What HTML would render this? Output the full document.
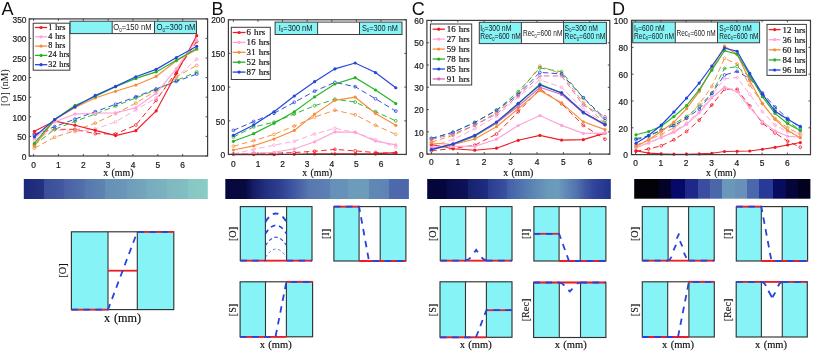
<!DOCTYPE html><html><head><meta charset="utf-8"><style>html,body{margin:0;padding:0;background:#fff;overflow:hidden}svg{display:block;will-change:transform}.tk{font-family:"Liberation Sans",sans-serif;font-size:8.4px;fill:#1a1a1a;stroke:#1a1a1a;stroke-width:0.2px}.lab{font-family:"Liberation Serif",serif;font-size:10.2px;fill:#111;stroke:#111;stroke-width:0.12px}.leg{font-family:"Liberation Serif",serif;font-size:9.3px;fill:#111;stroke:#111;stroke-width:0.2px;letter-spacing:0.12px;word-spacing:0.6px}.hd{font-family:"Liberation Sans",sans-serif;font-size:8.3px;fill:#1a1a1a}.xl{font-family:"Liberation Serif",serif;font-size:10.5px;fill:#111;stroke:#111;stroke-width:0.18px;word-spacing:0.8px}.pl{font-family:"Liberation Sans",sans-serif;font-size:18px;fill:#111}</style></head><body><svg width="813" height="352" viewBox="0 0 813 352">
<rect width="813" height="352" fill="#fff"/>
<text x="1.5" y="14.6" class="pl">A</text>
<text x="211.5" y="14.6" class="pl">B</text>
<text x="411.8" y="14.6" class="pl">C</text>
<text x="612" y="14.6" class="pl">D</text>
<polyline points="34.4,133.66 54.69,129.34 74.98,129.34 95.27,133.66 115.56,134.05 135.85,125.03 156.14,100.34 176.43,71.72 196.72,41.54" fill="none" stroke="#f01c24" stroke-width="0.95" stroke-dasharray="5.5,3.3"/>
<circle cx="34.4" cy="133.66" r="1.4" fill="none" stroke="#f01c24" stroke-width="0.8"/>
<circle cx="54.69" cy="129.34" r="1.4" fill="none" stroke="#f01c24" stroke-width="0.8"/>
<circle cx="74.98" cy="129.34" r="1.4" fill="none" stroke="#f01c24" stroke-width="0.8"/>
<circle cx="95.27" cy="133.66" r="1.4" fill="none" stroke="#f01c24" stroke-width="0.8"/>
<circle cx="115.56" cy="134.05" r="1.4" fill="none" stroke="#f01c24" stroke-width="0.8"/>
<circle cx="135.85" cy="125.03" r="1.4" fill="none" stroke="#f01c24" stroke-width="0.8"/>
<circle cx="156.14" cy="100.34" r="1.4" fill="none" stroke="#f01c24" stroke-width="0.8"/>
<circle cx="176.43" cy="71.72" r="1.4" fill="none" stroke="#f01c24" stroke-width="0.8"/>
<circle cx="196.72" cy="41.54" r="1.4" fill="none" stroke="#f01c24" stroke-width="0.8"/>
<polyline points="34.4,140.32 54.69,129.34 74.98,131.7 95.27,128.95 115.56,121.9 135.85,109.94 156.14,97.98 176.43,77.6 196.72,59.18" fill="none" stroke="#ffa4d8" stroke-width="0.95" stroke-dasharray="5.5,3.3"/>
<circle cx="34.4" cy="140.32" r="1.4" fill="none" stroke="#ffa4d8" stroke-width="0.8"/>
<circle cx="54.69" cy="129.34" r="1.4" fill="none" stroke="#ffa4d8" stroke-width="0.8"/>
<circle cx="74.98" cy="131.7" r="1.4" fill="none" stroke="#ffa4d8" stroke-width="0.8"/>
<circle cx="95.27" cy="128.95" r="1.4" fill="none" stroke="#ffa4d8" stroke-width="0.8"/>
<circle cx="115.56" cy="121.9" r="1.4" fill="none" stroke="#ffa4d8" stroke-width="0.8"/>
<circle cx="135.85" cy="109.94" r="1.4" fill="none" stroke="#ffa4d8" stroke-width="0.8"/>
<circle cx="156.14" cy="97.98" r="1.4" fill="none" stroke="#ffa4d8" stroke-width="0.8"/>
<circle cx="176.43" cy="77.6" r="1.4" fill="none" stroke="#ffa4d8" stroke-width="0.8"/>
<circle cx="196.72" cy="59.18" r="1.4" fill="none" stroke="#ffa4d8" stroke-width="0.8"/>
<polyline points="34.4,148.16 54.69,137.18 74.98,130.72 95.27,123.07 115.56,113.66 135.85,103.08 156.14,90.73 176.43,76.82 196.72,65.45" fill="none" stroke="#f68c3c" stroke-width="0.95" stroke-dasharray="5.5,3.3"/>
<circle cx="34.4" cy="148.16" r="1.4" fill="none" stroke="#f68c3c" stroke-width="0.8"/>
<circle cx="54.69" cy="137.18" r="1.4" fill="none" stroke="#f68c3c" stroke-width="0.8"/>
<circle cx="74.98" cy="130.72" r="1.4" fill="none" stroke="#f68c3c" stroke-width="0.8"/>
<circle cx="95.27" cy="123.07" r="1.4" fill="none" stroke="#f68c3c" stroke-width="0.8"/>
<circle cx="115.56" cy="113.66" r="1.4" fill="none" stroke="#f68c3c" stroke-width="0.8"/>
<circle cx="135.85" cy="103.08" r="1.4" fill="none" stroke="#f68c3c" stroke-width="0.8"/>
<circle cx="156.14" cy="90.73" r="1.4" fill="none" stroke="#f68c3c" stroke-width="0.8"/>
<circle cx="176.43" cy="76.82" r="1.4" fill="none" stroke="#f68c3c" stroke-width="0.8"/>
<circle cx="196.72" cy="65.45" r="1.4" fill="none" stroke="#f68c3c" stroke-width="0.8"/>
<polyline points="34.4,145.02 54.69,129.34 74.98,121.31 95.27,114.06 115.56,106.02 135.85,97.98 156.14,89.75 176.43,80.5 196.72,71.92" fill="none" stroke="#26b426" stroke-width="0.95" stroke-dasharray="5.5,3.3"/>
<circle cx="34.4" cy="145.02" r="1.4" fill="none" stroke="#26b426" stroke-width="0.8"/>
<circle cx="54.69" cy="129.34" r="1.4" fill="none" stroke="#26b426" stroke-width="0.8"/>
<circle cx="74.98" cy="121.31" r="1.4" fill="none" stroke="#26b426" stroke-width="0.8"/>
<circle cx="95.27" cy="114.06" r="1.4" fill="none" stroke="#26b426" stroke-width="0.8"/>
<circle cx="115.56" cy="106.02" r="1.4" fill="none" stroke="#26b426" stroke-width="0.8"/>
<circle cx="135.85" cy="97.98" r="1.4" fill="none" stroke="#26b426" stroke-width="0.8"/>
<circle cx="156.14" cy="89.75" r="1.4" fill="none" stroke="#26b426" stroke-width="0.8"/>
<circle cx="176.43" cy="80.5" r="1.4" fill="none" stroke="#26b426" stroke-width="0.8"/>
<circle cx="196.72" cy="71.92" r="1.4" fill="none" stroke="#26b426" stroke-width="0.8"/>
<polyline points="34.4,134.83 54.69,126.6 74.98,119.15 95.27,111.7 115.56,104.26 135.85,96.81 156.14,88.97 176.43,81.32 196.72,74.07" fill="none" stroke="#2544dc" stroke-width="0.95" stroke-dasharray="5.5,3.3"/>
<circle cx="34.4" cy="134.83" r="1.4" fill="none" stroke="#2544dc" stroke-width="0.8"/>
<circle cx="54.69" cy="126.6" r="1.4" fill="none" stroke="#2544dc" stroke-width="0.8"/>
<circle cx="74.98" cy="119.15" r="1.4" fill="none" stroke="#2544dc" stroke-width="0.8"/>
<circle cx="95.27" cy="111.7" r="1.4" fill="none" stroke="#2544dc" stroke-width="0.8"/>
<circle cx="115.56" cy="104.26" r="1.4" fill="none" stroke="#2544dc" stroke-width="0.8"/>
<circle cx="135.85" cy="96.81" r="1.4" fill="none" stroke="#2544dc" stroke-width="0.8"/>
<circle cx="156.14" cy="88.97" r="1.4" fill="none" stroke="#2544dc" stroke-width="0.8"/>
<circle cx="176.43" cy="81.32" r="1.4" fill="none" stroke="#2544dc" stroke-width="0.8"/>
<circle cx="196.72" cy="74.07" r="1.4" fill="none" stroke="#2544dc" stroke-width="0.8"/>
<polyline points="34.4,131.3 54.69,121.11 74.98,125.19 95.27,130.32 115.56,135.62 135.85,130.72 156.14,110.92 176.43,73.29 196.72,35.66" fill="none" stroke="#f01c24" stroke-width="1.15"/>
<circle cx="34.4" cy="131.3" r="1.6" fill="#f01c24"/>
<circle cx="54.69" cy="121.11" r="1.6" fill="#f01c24"/>
<circle cx="74.98" cy="125.19" r="1.6" fill="#f01c24"/>
<circle cx="95.27" cy="130.32" r="1.6" fill="#f01c24"/>
<circle cx="115.56" cy="135.62" r="1.6" fill="#f01c24"/>
<circle cx="135.85" cy="130.72" r="1.6" fill="#f01c24"/>
<circle cx="156.14" cy="110.92" r="1.6" fill="#f01c24"/>
<circle cx="176.43" cy="73.29" r="1.6" fill="#f01c24"/>
<circle cx="196.72" cy="35.66" r="1.6" fill="#f01c24"/>
<polyline points="34.4,138.36 54.69,121.9 74.98,114.06 95.27,113.27 115.56,112.88 135.85,107.78 156.14,93.28 176.43,68.58 196.72,39.97" fill="none" stroke="#ffa4d8" stroke-width="1.15"/>
<circle cx="34.4" cy="138.36" r="1.6" fill="#ffa4d8"/>
<circle cx="54.69" cy="121.9" r="1.6" fill="#ffa4d8"/>
<circle cx="74.98" cy="114.06" r="1.6" fill="#ffa4d8"/>
<circle cx="95.27" cy="113.27" r="1.6" fill="#ffa4d8"/>
<circle cx="115.56" cy="112.88" r="1.6" fill="#ffa4d8"/>
<circle cx="135.85" cy="107.78" r="1.6" fill="#ffa4d8"/>
<circle cx="156.14" cy="93.28" r="1.6" fill="#ffa4d8"/>
<circle cx="176.43" cy="68.58" r="1.6" fill="#ffa4d8"/>
<circle cx="196.72" cy="39.97" r="1.6" fill="#ffa4d8"/>
<polyline points="34.4,146.2 54.69,119.54 74.98,107.39 95.27,97.98 115.56,91.32 135.85,85.05 156.14,76.42 176.43,60.74 196.72,49.38" fill="none" stroke="#f68c3c" stroke-width="1.15"/>
<circle cx="34.4" cy="146.2" r="1.6" fill="#f68c3c"/>
<circle cx="54.69" cy="119.54" r="1.6" fill="#f68c3c"/>
<circle cx="74.98" cy="107.39" r="1.6" fill="#f68c3c"/>
<circle cx="95.27" cy="97.98" r="1.6" fill="#f68c3c"/>
<circle cx="115.56" cy="91.32" r="1.6" fill="#f68c3c"/>
<circle cx="135.85" cy="85.05" r="1.6" fill="#f68c3c"/>
<circle cx="156.14" cy="76.42" r="1.6" fill="#f68c3c"/>
<circle cx="176.43" cy="60.74" r="1.6" fill="#f68c3c"/>
<circle cx="196.72" cy="49.38" r="1.6" fill="#f68c3c"/>
<polyline points="34.4,143.46 54.69,119.54 74.98,105.43 95.27,96.42 115.56,86.81 135.85,78.38 156.14,71.92 176.43,60.35 196.72,48.59" fill="none" stroke="#26b426" stroke-width="1.15"/>
<circle cx="34.4" cy="143.46" r="1.6" fill="#26b426"/>
<circle cx="54.69" cy="119.54" r="1.6" fill="#26b426"/>
<circle cx="74.98" cy="105.43" r="1.6" fill="#26b426"/>
<circle cx="95.27" cy="96.42" r="1.6" fill="#26b426"/>
<circle cx="115.56" cy="86.81" r="1.6" fill="#26b426"/>
<circle cx="135.85" cy="78.38" r="1.6" fill="#26b426"/>
<circle cx="156.14" cy="71.92" r="1.6" fill="#26b426"/>
<circle cx="176.43" cy="60.35" r="1.6" fill="#26b426"/>
<circle cx="196.72" cy="48.59" r="1.6" fill="#26b426"/>
<polyline points="34.4,136.79 54.69,119.54 74.98,106.8 95.27,95.4 115.56,86.38 135.85,76.82 156.14,69.37 176.43,57.61 196.72,46.24" fill="none" stroke="#2544dc" stroke-width="1.15"/>
<circle cx="34.4" cy="136.79" r="1.6" fill="#2544dc"/>
<circle cx="54.69" cy="119.54" r="1.6" fill="#2544dc"/>
<circle cx="74.98" cy="106.8" r="1.6" fill="#2544dc"/>
<circle cx="95.27" cy="95.4" r="1.6" fill="#2544dc"/>
<circle cx="115.56" cy="86.38" r="1.6" fill="#2544dc"/>
<circle cx="135.85" cy="76.82" r="1.6" fill="#2544dc"/>
<circle cx="156.14" cy="69.37" r="1.6" fill="#2544dc"/>
<circle cx="176.43" cy="57.61" r="1.6" fill="#2544dc"/>
<circle cx="196.72" cy="46.24" r="1.6" fill="#2544dc"/>
<rect x="29.2" y="18.9" width="178.4" height="137.1" fill="none" stroke="#3c3c3c" stroke-width="1.2"/>
<line x1="33.6" y1="156" x2="33.6" y2="154" stroke="#3c3c3c" stroke-width="0.9"/>
<line x1="33.6" y1="18.9" x2="33.6" y2="20.9" stroke="#3c3c3c" stroke-width="0.9"/>
<text x="33.6" y="167.6" class="tk" text-anchor="middle">0</text>
<line x1="58.45" y1="156" x2="58.45" y2="154" stroke="#3c3c3c" stroke-width="0.9"/>
<line x1="58.45" y1="18.9" x2="58.45" y2="20.9" stroke="#3c3c3c" stroke-width="0.9"/>
<text x="58.45" y="167.6" class="tk" text-anchor="middle">1</text>
<line x1="83.3" y1="156" x2="83.3" y2="154" stroke="#3c3c3c" stroke-width="0.9"/>
<line x1="83.3" y1="18.9" x2="83.3" y2="20.9" stroke="#3c3c3c" stroke-width="0.9"/>
<text x="83.3" y="167.6" class="tk" text-anchor="middle">2</text>
<line x1="108.15" y1="156" x2="108.15" y2="154" stroke="#3c3c3c" stroke-width="0.9"/>
<line x1="108.15" y1="18.9" x2="108.15" y2="20.9" stroke="#3c3c3c" stroke-width="0.9"/>
<text x="108.15" y="167.6" class="tk" text-anchor="middle">3</text>
<line x1="133" y1="156" x2="133" y2="154" stroke="#3c3c3c" stroke-width="0.9"/>
<line x1="133" y1="18.9" x2="133" y2="20.9" stroke="#3c3c3c" stroke-width="0.9"/>
<text x="133" y="167.6" class="tk" text-anchor="middle">4</text>
<line x1="157.85" y1="156" x2="157.85" y2="154" stroke="#3c3c3c" stroke-width="0.9"/>
<line x1="157.85" y1="18.9" x2="157.85" y2="20.9" stroke="#3c3c3c" stroke-width="0.9"/>
<text x="157.85" y="167.6" class="tk" text-anchor="middle">5</text>
<line x1="182.7" y1="156" x2="182.7" y2="154" stroke="#3c3c3c" stroke-width="0.9"/>
<line x1="182.7" y1="18.9" x2="182.7" y2="20.9" stroke="#3c3c3c" stroke-width="0.9"/>
<text x="182.7" y="167.6" class="tk" text-anchor="middle">6</text>
<line x1="29.2" y1="156" x2="31.2" y2="156" stroke="#3c3c3c" stroke-width="0.9"/>
<line x1="207.6" y1="156" x2="205.6" y2="156" stroke="#3c3c3c" stroke-width="0.9"/>
<text x="26.5" y="159.7" class="tk" text-anchor="end">0</text>
<line x1="29.2" y1="136.4" x2="31.2" y2="136.4" stroke="#3c3c3c" stroke-width="0.9"/>
<line x1="207.6" y1="136.4" x2="205.6" y2="136.4" stroke="#3c3c3c" stroke-width="0.9"/>
<text x="26.5" y="140.1" class="tk" text-anchor="end">50</text>
<line x1="29.2" y1="116.8" x2="31.2" y2="116.8" stroke="#3c3c3c" stroke-width="0.9"/>
<line x1="207.6" y1="116.8" x2="205.6" y2="116.8" stroke="#3c3c3c" stroke-width="0.9"/>
<text x="26.5" y="120.5" class="tk" text-anchor="end">100</text>
<line x1="29.2" y1="97.2" x2="31.2" y2="97.2" stroke="#3c3c3c" stroke-width="0.9"/>
<line x1="207.6" y1="97.2" x2="205.6" y2="97.2" stroke="#3c3c3c" stroke-width="0.9"/>
<text x="26.5" y="100.9" class="tk" text-anchor="end">150</text>
<line x1="29.2" y1="77.6" x2="31.2" y2="77.6" stroke="#3c3c3c" stroke-width="0.9"/>
<line x1="207.6" y1="77.6" x2="205.6" y2="77.6" stroke="#3c3c3c" stroke-width="0.9"/>
<text x="26.5" y="81.3" class="tk" text-anchor="end">200</text>
<line x1="29.2" y1="58" x2="31.2" y2="58" stroke="#3c3c3c" stroke-width="0.9"/>
<line x1="207.6" y1="58" x2="205.6" y2="58" stroke="#3c3c3c" stroke-width="0.9"/>
<text x="26.5" y="61.7" class="tk" text-anchor="end">250</text>
<line x1="29.2" y1="38.4" x2="31.2" y2="38.4" stroke="#3c3c3c" stroke-width="0.9"/>
<line x1="207.6" y1="38.4" x2="205.6" y2="38.4" stroke="#3c3c3c" stroke-width="0.9"/>
<text x="26.5" y="42.1" class="tk" text-anchor="end">300</text>
<line x1="29.2" y1="18.8" x2="31.2" y2="18.8" stroke="#3c3c3c" stroke-width="0.9"/>
<line x1="207.6" y1="18.8" x2="205.6" y2="18.8" stroke="#3c3c3c" stroke-width="0.9"/>
<text x="26.5" y="22.5" class="tk" text-anchor="end">350</text>
<text x="118.4" y="176.4" class="xl" style="font-size:9.9px;stroke-width:0.15px" text-anchor="middle">x (mm)</text>
<rect x="33.2" y="23.2" width="36.6" height="47" fill="#fff" stroke="#3c3c3c" stroke-width="1"/>
<line x1="34.9" y1="27.5" x2="47.2" y2="27.5" stroke="#f01c24" stroke-width="1.3"/>
<circle cx="41.05" cy="27.5" r="1.6" fill="#f01c24"/>
<text x="48.3" y="29.5" class="leg" style="font-size:8.1px">1 hrs</text>
<line x1="34.9" y1="36.8" x2="47.2" y2="36.8" stroke="#ffa4d8" stroke-width="1.3"/>
<circle cx="41.05" cy="36.8" r="1.6" fill="#ffa4d8"/>
<text x="48.3" y="38.8" class="leg" style="font-size:8.1px">4 hrs</text>
<line x1="34.9" y1="46.1" x2="47.2" y2="46.1" stroke="#f68c3c" stroke-width="1.3"/>
<circle cx="41.05" cy="46.1" r="1.6" fill="#f68c3c"/>
<text x="48.3" y="48.1" class="leg" style="font-size:8.1px">8 hrs</text>
<line x1="34.9" y1="55.4" x2="47.2" y2="55.4" stroke="#26b426" stroke-width="1.3"/>
<circle cx="41.05" cy="55.4" r="1.6" fill="#26b426"/>
<text x="48.3" y="57.4" class="leg" style="font-size:8.1px">24 hrs</text>
<line x1="34.9" y1="64.7" x2="47.2" y2="64.7" stroke="#2544dc" stroke-width="1.3"/>
<circle cx="41.05" cy="64.7" r="1.6" fill="#2544dc"/>
<text x="48.3" y="66.7" class="leg" style="font-size:8.1px">32 hrs</text>
<rect x="70.1" y="21.2" width="42.1" height="12.4" fill="#86f3f7"/>
<rect x="112.2" y="21.2" width="42.3" height="12.4" fill="#fff"/>
<rect x="154.5" y="21.2" width="42" height="12.4" fill="#86f3f7"/>
<rect x="70.1" y="21.2" width="126.4" height="12.4" fill="none" stroke="#3c3c3c" stroke-width="1"/>
<line x1="112.2" y1="21.2" x2="112.2" y2="33.6" stroke="#3c3c3c" stroke-width="1"/>
<line x1="154.5" y1="21.2" x2="154.5" y2="33.6" stroke="#3c3c3c" stroke-width="1"/>
<text x="113.2" y="30" class="hd" textLength="38.3" lengthAdjust="spacingAndGlyphs">O<tspan font-size="5" dy="1.6">0</tspan><tspan dy="-1.6">=150 nM</tspan></text>
<text x="156.4" y="30" class="hd" textLength="39.1" lengthAdjust="spacingAndGlyphs">O<tspan font-size="5" dy="1.6">0</tspan><tspan dy="-1.6">=300 nM</tspan></text>
<text transform="translate(7.6,87.6) rotate(-90)" class="lab" style="stroke-width:0;font-size:9.6px;letter-spacing:0.2px" text-anchor="middle">[O] (nM)</text>
<polyline points="233.4,153.92 253.7,153.25 274,153.25 294.3,152.57 314.6,151.22 334.9,149.4 355.2,150.89 375.5,152.57 395.8,153.25" fill="none" stroke="#f01c24" stroke-width="0.95" stroke-dasharray="5.5,3.3"/>
<circle cx="233.4" cy="153.92" r="1.4" fill="none" stroke="#f01c24" stroke-width="0.8"/>
<circle cx="253.7" cy="153.25" r="1.4" fill="none" stroke="#f01c24" stroke-width="0.8"/>
<circle cx="274" cy="153.25" r="1.4" fill="none" stroke="#f01c24" stroke-width="0.8"/>
<circle cx="294.3" cy="152.57" r="1.4" fill="none" stroke="#f01c24" stroke-width="0.8"/>
<circle cx="314.6" cy="151.22" r="1.4" fill="none" stroke="#f01c24" stroke-width="0.8"/>
<circle cx="334.9" cy="149.4" r="1.4" fill="none" stroke="#f01c24" stroke-width="0.8"/>
<circle cx="355.2" cy="150.89" r="1.4" fill="none" stroke="#f01c24" stroke-width="0.8"/>
<circle cx="375.5" cy="152.57" r="1.4" fill="none" stroke="#f01c24" stroke-width="0.8"/>
<circle cx="395.8" cy="153.25" r="1.4" fill="none" stroke="#f01c24" stroke-width="0.8"/>
<polyline points="233.4,153.92 253.7,149.4 274,145.15 294.3,141.3 314.6,134.01 334.9,128.28 355.2,132.32 375.5,139.75 395.8,146.97" fill="none" stroke="#ffa4d8" stroke-width="0.95" stroke-dasharray="5.5,3.3"/>
<circle cx="233.4" cy="153.92" r="1.4" fill="none" stroke="#ffa4d8" stroke-width="0.8"/>
<circle cx="253.7" cy="149.4" r="1.4" fill="none" stroke="#ffa4d8" stroke-width="0.8"/>
<circle cx="274" cy="145.15" r="1.4" fill="none" stroke="#ffa4d8" stroke-width="0.8"/>
<circle cx="294.3" cy="141.3" r="1.4" fill="none" stroke="#ffa4d8" stroke-width="0.8"/>
<circle cx="314.6" cy="134.01" r="1.4" fill="none" stroke="#ffa4d8" stroke-width="0.8"/>
<circle cx="334.9" cy="128.28" r="1.4" fill="none" stroke="#ffa4d8" stroke-width="0.8"/>
<circle cx="355.2" cy="132.32" r="1.4" fill="none" stroke="#ffa4d8" stroke-width="0.8"/>
<circle cx="375.5" cy="139.75" r="1.4" fill="none" stroke="#ffa4d8" stroke-width="0.8"/>
<circle cx="395.8" cy="146.97" r="1.4" fill="none" stroke="#ffa4d8" stroke-width="0.8"/>
<polyline points="233.4,146.23 253.7,140.69 274,134.35 294.3,125.98 314.6,117.14 334.9,110.19 355.2,114.77 375.5,125.3 395.8,134.35" fill="none" stroke="#f68c3c" stroke-width="0.95" stroke-dasharray="5.5,3.3"/>
<circle cx="233.4" cy="146.23" r="1.4" fill="none" stroke="#f68c3c" stroke-width="0.8"/>
<circle cx="253.7" cy="140.69" r="1.4" fill="none" stroke="#f68c3c" stroke-width="0.8"/>
<circle cx="274" cy="134.35" r="1.4" fill="none" stroke="#f68c3c" stroke-width="0.8"/>
<circle cx="294.3" cy="125.98" r="1.4" fill="none" stroke="#f68c3c" stroke-width="0.8"/>
<circle cx="314.6" cy="117.14" r="1.4" fill="none" stroke="#f68c3c" stroke-width="0.8"/>
<circle cx="334.9" cy="110.19" r="1.4" fill="none" stroke="#f68c3c" stroke-width="0.8"/>
<circle cx="355.2" cy="114.77" r="1.4" fill="none" stroke="#f68c3c" stroke-width="0.8"/>
<circle cx="375.5" cy="125.3" r="1.4" fill="none" stroke="#f68c3c" stroke-width="0.8"/>
<circle cx="395.8" cy="134.35" r="1.4" fill="none" stroke="#f68c3c" stroke-width="0.8"/>
<polyline points="233.4,137.05 253.7,126.92 274,122.2 294.3,114.1 314.6,105.73 334.9,99.25 355.2,102.08 375.5,111.67 395.8,120.85" fill="none" stroke="#26b426" stroke-width="0.95" stroke-dasharray="5.5,3.3"/>
<circle cx="233.4" cy="137.05" r="1.4" fill="none" stroke="#26b426" stroke-width="0.8"/>
<circle cx="253.7" cy="126.92" r="1.4" fill="none" stroke="#26b426" stroke-width="0.8"/>
<circle cx="274" cy="122.2" r="1.4" fill="none" stroke="#26b426" stroke-width="0.8"/>
<circle cx="294.3" cy="114.1" r="1.4" fill="none" stroke="#26b426" stroke-width="0.8"/>
<circle cx="314.6" cy="105.73" r="1.4" fill="none" stroke="#26b426" stroke-width="0.8"/>
<circle cx="334.9" cy="99.25" r="1.4" fill="none" stroke="#26b426" stroke-width="0.8"/>
<circle cx="355.2" cy="102.08" r="1.4" fill="none" stroke="#26b426" stroke-width="0.8"/>
<circle cx="375.5" cy="111.67" r="1.4" fill="none" stroke="#26b426" stroke-width="0.8"/>
<circle cx="395.8" cy="120.85" r="1.4" fill="none" stroke="#26b426" stroke-width="0.8"/>
<polyline points="233.4,130.37 253.7,121.52 274,113.22 294.3,102.29 314.6,91.15 334.9,82.38 355.2,86.69 375.5,98.78 395.8,111.13" fill="none" stroke="#2544dc" stroke-width="0.95" stroke-dasharray="5.5,3.3"/>
<circle cx="233.4" cy="130.37" r="1.4" fill="none" stroke="#2544dc" stroke-width="0.8"/>
<circle cx="253.7" cy="121.52" r="1.4" fill="none" stroke="#2544dc" stroke-width="0.8"/>
<circle cx="274" cy="113.22" r="1.4" fill="none" stroke="#2544dc" stroke-width="0.8"/>
<circle cx="294.3" cy="102.29" r="1.4" fill="none" stroke="#2544dc" stroke-width="0.8"/>
<circle cx="314.6" cy="91.15" r="1.4" fill="none" stroke="#2544dc" stroke-width="0.8"/>
<circle cx="334.9" cy="82.38" r="1.4" fill="none" stroke="#2544dc" stroke-width="0.8"/>
<circle cx="355.2" cy="86.69" r="1.4" fill="none" stroke="#2544dc" stroke-width="0.8"/>
<circle cx="375.5" cy="98.78" r="1.4" fill="none" stroke="#2544dc" stroke-width="0.8"/>
<circle cx="395.8" cy="111.13" r="1.4" fill="none" stroke="#2544dc" stroke-width="0.8"/>
<polyline points="233.4,154.6 253.7,154.6 274,154.6 294.3,154.26 314.6,153.92 334.9,153.92 355.2,153.92 375.5,153.92 395.8,152.57" fill="none" stroke="#f01c24" stroke-width="1.15"/>
<circle cx="233.4" cy="154.6" r="1.6" fill="#f01c24"/>
<circle cx="253.7" cy="154.6" r="1.6" fill="#f01c24"/>
<circle cx="274" cy="154.6" r="1.6" fill="#f01c24"/>
<circle cx="294.3" cy="154.26" r="1.6" fill="#f01c24"/>
<circle cx="314.6" cy="153.92" r="1.6" fill="#f01c24"/>
<circle cx="334.9" cy="153.92" r="1.6" fill="#f01c24"/>
<circle cx="355.2" cy="153.92" r="1.6" fill="#f01c24"/>
<circle cx="375.5" cy="153.92" r="1.6" fill="#f01c24"/>
<circle cx="395.8" cy="152.57" r="1.6" fill="#f01c24"/>
<polyline points="233.4,153.92 253.7,153.52 274,152.24 294.3,148.93 314.6,141.78 334.9,131.92 355.2,132.32 375.5,141.1 395.8,144.88" fill="none" stroke="#ffa4d8" stroke-width="1.15"/>
<circle cx="233.4" cy="153.92" r="1.6" fill="#ffa4d8"/>
<circle cx="253.7" cy="153.52" r="1.6" fill="#ffa4d8"/>
<circle cx="274" cy="152.24" r="1.6" fill="#ffa4d8"/>
<circle cx="294.3" cy="148.93" r="1.6" fill="#ffa4d8"/>
<circle cx="314.6" cy="141.78" r="1.6" fill="#ffa4d8"/>
<circle cx="334.9" cy="131.92" r="1.6" fill="#ffa4d8"/>
<circle cx="355.2" cy="132.32" r="1.6" fill="#ffa4d8"/>
<circle cx="375.5" cy="141.1" r="1.6" fill="#ffa4d8"/>
<circle cx="395.8" cy="144.88" r="1.6" fill="#ffa4d8"/>
<polyline points="233.4,150.01 253.7,145.82 274,139.07 294.3,130.44 314.6,114.1 334.9,100.33 355.2,97.22 375.5,113.42 395.8,125.3" fill="none" stroke="#f68c3c" stroke-width="1.15"/>
<circle cx="233.4" cy="150.01" r="1.6" fill="#f68c3c"/>
<circle cx="253.7" cy="145.82" r="1.6" fill="#f68c3c"/>
<circle cx="274" cy="139.07" r="1.6" fill="#f68c3c"/>
<circle cx="294.3" cy="130.44" r="1.6" fill="#f68c3c"/>
<circle cx="314.6" cy="114.1" r="1.6" fill="#f68c3c"/>
<circle cx="334.9" cy="100.33" r="1.6" fill="#f68c3c"/>
<circle cx="355.2" cy="97.22" r="1.6" fill="#f68c3c"/>
<circle cx="375.5" cy="113.42" r="1.6" fill="#f68c3c"/>
<circle cx="395.8" cy="125.3" r="1.6" fill="#f68c3c"/>
<polyline points="233.4,141.3 253.7,133.67 274,123.28 294.3,111.8 314.6,96.89 334.9,83.99 355.2,77.65 375.5,90 395.8,103.57" fill="none" stroke="#26b426" stroke-width="1.15"/>
<circle cx="233.4" cy="141.3" r="1.6" fill="#26b426"/>
<circle cx="253.7" cy="133.67" r="1.6" fill="#26b426"/>
<circle cx="274" cy="123.28" r="1.6" fill="#26b426"/>
<circle cx="294.3" cy="111.8" r="1.6" fill="#26b426"/>
<circle cx="314.6" cy="96.89" r="1.6" fill="#26b426"/>
<circle cx="334.9" cy="83.99" r="1.6" fill="#26b426"/>
<circle cx="355.2" cy="77.65" r="1.6" fill="#26b426"/>
<circle cx="375.5" cy="90" r="1.6" fill="#26b426"/>
<circle cx="395.8" cy="103.57" r="1.6" fill="#26b426"/>
<polyline points="233.4,135.29 253.7,124.9 274,111.8 294.3,96.01 314.6,81.7 334.9,68.88 355.2,63 375.5,72.59 395.8,87.77" fill="none" stroke="#2544dc" stroke-width="1.15"/>
<circle cx="233.4" cy="135.29" r="1.6" fill="#2544dc"/>
<circle cx="253.7" cy="124.9" r="1.6" fill="#2544dc"/>
<circle cx="274" cy="111.8" r="1.6" fill="#2544dc"/>
<circle cx="294.3" cy="96.01" r="1.6" fill="#2544dc"/>
<circle cx="314.6" cy="81.7" r="1.6" fill="#2544dc"/>
<circle cx="334.9" cy="68.88" r="1.6" fill="#2544dc"/>
<circle cx="355.2" cy="63" r="1.6" fill="#2544dc"/>
<circle cx="375.5" cy="72.59" r="1.6" fill="#2544dc"/>
<circle cx="395.8" cy="87.77" r="1.6" fill="#2544dc"/>
<rect x="228.4" y="19.8" width="177.9" height="134.6" fill="none" stroke="#3c3c3c" stroke-width="1.2"/>
<line x1="233.4" y1="154.4" x2="233.4" y2="152.4" stroke="#3c3c3c" stroke-width="0.9"/>
<line x1="233.4" y1="19.8" x2="233.4" y2="21.8" stroke="#3c3c3c" stroke-width="0.9"/>
<text x="233.4" y="166.5" class="tk" text-anchor="middle">0</text>
<line x1="258" y1="154.4" x2="258" y2="152.4" stroke="#3c3c3c" stroke-width="0.9"/>
<line x1="258" y1="19.8" x2="258" y2="21.8" stroke="#3c3c3c" stroke-width="0.9"/>
<text x="258" y="166.5" class="tk" text-anchor="middle">1</text>
<line x1="282.6" y1="154.4" x2="282.6" y2="152.4" stroke="#3c3c3c" stroke-width="0.9"/>
<line x1="282.6" y1="19.8" x2="282.6" y2="21.8" stroke="#3c3c3c" stroke-width="0.9"/>
<text x="282.6" y="166.5" class="tk" text-anchor="middle">2</text>
<line x1="307.2" y1="154.4" x2="307.2" y2="152.4" stroke="#3c3c3c" stroke-width="0.9"/>
<line x1="307.2" y1="19.8" x2="307.2" y2="21.8" stroke="#3c3c3c" stroke-width="0.9"/>
<text x="307.2" y="166.5" class="tk" text-anchor="middle">3</text>
<line x1="331.8" y1="154.4" x2="331.8" y2="152.4" stroke="#3c3c3c" stroke-width="0.9"/>
<line x1="331.8" y1="19.8" x2="331.8" y2="21.8" stroke="#3c3c3c" stroke-width="0.9"/>
<text x="331.8" y="166.5" class="tk" text-anchor="middle">4</text>
<line x1="356.4" y1="154.4" x2="356.4" y2="152.4" stroke="#3c3c3c" stroke-width="0.9"/>
<line x1="356.4" y1="19.8" x2="356.4" y2="21.8" stroke="#3c3c3c" stroke-width="0.9"/>
<text x="356.4" y="166.5" class="tk" text-anchor="middle">5</text>
<line x1="381" y1="154.4" x2="381" y2="152.4" stroke="#3c3c3c" stroke-width="0.9"/>
<line x1="381" y1="19.8" x2="381" y2="21.8" stroke="#3c3c3c" stroke-width="0.9"/>
<text x="381" y="166.5" class="tk" text-anchor="middle">6</text>
<line x1="228.4" y1="154.6" x2="230.4" y2="154.6" stroke="#3c3c3c" stroke-width="0.9"/>
<line x1="406.3" y1="154.6" x2="404.3" y2="154.6" stroke="#3c3c3c" stroke-width="0.9"/>
<text x="225.2" y="158.3" class="tk" text-anchor="end">0</text>
<line x1="228.4" y1="120.85" x2="230.4" y2="120.85" stroke="#3c3c3c" stroke-width="0.9"/>
<line x1="406.3" y1="120.85" x2="404.3" y2="120.85" stroke="#3c3c3c" stroke-width="0.9"/>
<text x="225.2" y="124.55" class="tk" text-anchor="end">50</text>
<line x1="228.4" y1="87.1" x2="230.4" y2="87.1" stroke="#3c3c3c" stroke-width="0.9"/>
<line x1="406.3" y1="87.1" x2="404.3" y2="87.1" stroke="#3c3c3c" stroke-width="0.9"/>
<text x="225.2" y="90.8" class="tk" text-anchor="end">100</text>
<line x1="228.4" y1="53.35" x2="230.4" y2="53.35" stroke="#3c3c3c" stroke-width="0.9"/>
<line x1="406.3" y1="53.35" x2="404.3" y2="53.35" stroke="#3c3c3c" stroke-width="0.9"/>
<text x="225.2" y="57.05" class="tk" text-anchor="end">150</text>
<line x1="228.4" y1="19.6" x2="230.4" y2="19.6" stroke="#3c3c3c" stroke-width="0.9"/>
<line x1="406.3" y1="19.6" x2="404.3" y2="19.6" stroke="#3c3c3c" stroke-width="0.9"/>
<text x="225.2" y="23.3" class="tk" text-anchor="end">200</text>
<text x="317.3" y="176.2" class="xl" style="font-size:9.9px;stroke-width:0.15px" text-anchor="middle">x (mm)</text>
<rect x="231.3" y="27.3" width="39" height="52.2" fill="#fff" stroke="#3c3c3c" stroke-width="1"/>
<line x1="232.7" y1="32.5" x2="245.5" y2="32.5" stroke="#f01c24" stroke-width="1.3"/>
<circle cx="239.1" cy="32.5" r="1.6" fill="#f01c24"/>
<text x="246.6" y="35.4" class="leg" style="font-size:8.9px">6 hrs</text>
<line x1="232.7" y1="42.4" x2="245.5" y2="42.4" stroke="#ffa4d8" stroke-width="1.3"/>
<circle cx="239.1" cy="42.4" r="1.6" fill="#ffa4d8"/>
<text x="246.6" y="45.3" class="leg" style="font-size:8.9px">16 hrs</text>
<line x1="232.7" y1="52.3" x2="245.5" y2="52.3" stroke="#f68c3c" stroke-width="1.3"/>
<circle cx="239.1" cy="52.3" r="1.6" fill="#f68c3c"/>
<text x="246.6" y="55.2" class="leg" style="font-size:8.9px">31 hrs</text>
<line x1="232.7" y1="62.2" x2="245.5" y2="62.2" stroke="#26b426" stroke-width="1.3"/>
<circle cx="239.1" cy="62.2" r="1.6" fill="#26b426"/>
<text x="246.6" y="65.1" class="leg" style="font-size:8.9px">52 hrs</text>
<line x1="232.7" y1="72.1" x2="245.5" y2="72.1" stroke="#2544dc" stroke-width="1.3"/>
<circle cx="239.1" cy="72.1" r="1.6" fill="#2544dc"/>
<text x="246.6" y="75" class="leg" style="font-size:8.9px">87 hrs</text>
<rect x="275.1" y="22.1" width="42.5" height="12.4" fill="#86f3f7"/>
<rect x="317.6" y="22.1" width="41.9" height="12.4" fill="#fff"/>
<rect x="359.5" y="22.1" width="42.5" height="12.4" fill="#86f3f7"/>
<rect x="275.1" y="22.1" width="126.9" height="12.4" fill="none" stroke="#3c3c3c" stroke-width="1"/>
<line x1="317.6" y1="22.1" x2="317.6" y2="34.5" stroke="#3c3c3c" stroke-width="1"/>
<line x1="359.5" y1="22.1" x2="359.5" y2="34.5" stroke="#3c3c3c" stroke-width="1"/>
<text x="278.8" y="30.6" class="hd" textLength="33.6" lengthAdjust="spacingAndGlyphs">I<tspan font-size="5" dy="1.6">0</tspan><tspan dy="-1.6">=300 nM</tspan></text>
<text x="361.9" y="30.6" class="hd" textLength="35.9" lengthAdjust="spacingAndGlyphs">S<tspan font-size="5" dy="1.6">0</tspan><tspan dy="-1.6">=300 nM</tspan></text>
<polyline points="431.4,150.76 453.1,148.53 474.8,145.19 496.5,134.06 518.2,111.79 539.9,88.86 561.6,103.78 583.3,125.38 605,139.18" fill="none" stroke="#f01c24" stroke-width="0.95" stroke-dasharray="5.5,3.3"/>
<circle cx="431.4" cy="150.76" r="1.4" fill="none" stroke="#f01c24" stroke-width="0.8"/>
<circle cx="453.1" cy="148.53" r="1.4" fill="none" stroke="#f01c24" stroke-width="0.8"/>
<circle cx="474.8" cy="145.19" r="1.4" fill="none" stroke="#f01c24" stroke-width="0.8"/>
<circle cx="496.5" cy="134.06" r="1.4" fill="none" stroke="#f01c24" stroke-width="0.8"/>
<circle cx="518.2" cy="111.79" r="1.4" fill="none" stroke="#f01c24" stroke-width="0.8"/>
<circle cx="539.9" cy="88.86" r="1.4" fill="none" stroke="#f01c24" stroke-width="0.8"/>
<circle cx="561.6" cy="103.78" r="1.4" fill="none" stroke="#f01c24" stroke-width="0.8"/>
<circle cx="583.3" cy="125.38" r="1.4" fill="none" stroke="#f01c24" stroke-width="0.8"/>
<circle cx="605" cy="139.18" r="1.4" fill="none" stroke="#f01c24" stroke-width="0.8"/>
<polyline points="431.4,146.31 453.1,139.63 474.8,128.72 496.5,116.47 518.2,96.87 539.9,79.95 561.6,87.3 583.3,109.57 605,122.93" fill="none" stroke="#ffa4d8" stroke-width="0.95" stroke-dasharray="5.5,3.3"/>
<circle cx="431.4" cy="146.31" r="1.4" fill="none" stroke="#ffa4d8" stroke-width="0.8"/>
<circle cx="453.1" cy="139.63" r="1.4" fill="none" stroke="#ffa4d8" stroke-width="0.8"/>
<circle cx="474.8" cy="128.72" r="1.4" fill="none" stroke="#ffa4d8" stroke-width="0.8"/>
<circle cx="496.5" cy="116.47" r="1.4" fill="none" stroke="#ffa4d8" stroke-width="0.8"/>
<circle cx="518.2" cy="96.87" r="1.4" fill="none" stroke="#ffa4d8" stroke-width="0.8"/>
<circle cx="539.9" cy="79.95" r="1.4" fill="none" stroke="#ffa4d8" stroke-width="0.8"/>
<circle cx="561.6" cy="87.3" r="1.4" fill="none" stroke="#ffa4d8" stroke-width="0.8"/>
<circle cx="583.3" cy="109.57" r="1.4" fill="none" stroke="#ffa4d8" stroke-width="0.8"/>
<circle cx="605" cy="122.93" r="1.4" fill="none" stroke="#ffa4d8" stroke-width="0.8"/>
<polyline points="431.4,142.08 453.1,135.4 474.8,125.15 496.5,112.68 518.2,93.98 539.9,66.15 561.6,73.94 583.3,102.66 605,123.59" fill="none" stroke="#f68c3c" stroke-width="0.95" stroke-dasharray="5.5,3.3"/>
<circle cx="431.4" cy="142.08" r="1.4" fill="none" stroke="#f68c3c" stroke-width="0.8"/>
<circle cx="453.1" cy="135.4" r="1.4" fill="none" stroke="#f68c3c" stroke-width="0.8"/>
<circle cx="474.8" cy="125.15" r="1.4" fill="none" stroke="#f68c3c" stroke-width="0.8"/>
<circle cx="496.5" cy="112.68" r="1.4" fill="none" stroke="#f68c3c" stroke-width="0.8"/>
<circle cx="518.2" cy="93.98" r="1.4" fill="none" stroke="#f68c3c" stroke-width="0.8"/>
<circle cx="539.9" cy="66.15" r="1.4" fill="none" stroke="#f68c3c" stroke-width="0.8"/>
<circle cx="561.6" cy="73.94" r="1.4" fill="none" stroke="#f68c3c" stroke-width="0.8"/>
<circle cx="583.3" cy="102.66" r="1.4" fill="none" stroke="#f68c3c" stroke-width="0.8"/>
<circle cx="605" cy="123.59" r="1.4" fill="none" stroke="#f68c3c" stroke-width="0.8"/>
<polyline points="431.4,138.51 453.1,132.28 474.8,122.48 496.5,110.23 518.2,91.75 539.9,67.93 561.6,71.71 583.3,97.77 605,120.7" fill="none" stroke="#26b426" stroke-width="0.95" stroke-dasharray="5.5,3.3"/>
<circle cx="431.4" cy="138.51" r="1.4" fill="none" stroke="#26b426" stroke-width="0.8"/>
<circle cx="453.1" cy="132.28" r="1.4" fill="none" stroke="#26b426" stroke-width="0.8"/>
<circle cx="474.8" cy="122.48" r="1.4" fill="none" stroke="#26b426" stroke-width="0.8"/>
<circle cx="496.5" cy="110.23" r="1.4" fill="none" stroke="#26b426" stroke-width="0.8"/>
<circle cx="518.2" cy="91.75" r="1.4" fill="none" stroke="#26b426" stroke-width="0.8"/>
<circle cx="539.9" cy="67.93" r="1.4" fill="none" stroke="#26b426" stroke-width="0.8"/>
<circle cx="561.6" cy="71.71" r="1.4" fill="none" stroke="#26b426" stroke-width="0.8"/>
<circle cx="583.3" cy="97.77" r="1.4" fill="none" stroke="#26b426" stroke-width="0.8"/>
<circle cx="605" cy="120.7" r="1.4" fill="none" stroke="#26b426" stroke-width="0.8"/>
<polyline points="431.4,138.51 453.1,132.28 474.8,122.48 496.5,110.23 518.2,94.43 539.9,72.38 561.6,73.94 583.3,97.77 605,118.47" fill="none" stroke="#2544dc" stroke-width="0.95" stroke-dasharray="5.5,3.3"/>
<circle cx="431.4" cy="138.51" r="1.4" fill="none" stroke="#2544dc" stroke-width="0.8"/>
<circle cx="453.1" cy="132.28" r="1.4" fill="none" stroke="#2544dc" stroke-width="0.8"/>
<circle cx="474.8" cy="122.48" r="1.4" fill="none" stroke="#2544dc" stroke-width="0.8"/>
<circle cx="496.5" cy="110.23" r="1.4" fill="none" stroke="#2544dc" stroke-width="0.8"/>
<circle cx="518.2" cy="94.43" r="1.4" fill="none" stroke="#2544dc" stroke-width="0.8"/>
<circle cx="539.9" cy="72.38" r="1.4" fill="none" stroke="#2544dc" stroke-width="0.8"/>
<circle cx="561.6" cy="73.94" r="1.4" fill="none" stroke="#2544dc" stroke-width="0.8"/>
<circle cx="583.3" cy="97.77" r="1.4" fill="none" stroke="#2544dc" stroke-width="0.8"/>
<circle cx="605" cy="118.47" r="1.4" fill="none" stroke="#2544dc" stroke-width="0.8"/>
<polyline points="431.4,139.63 453.1,134.06 474.8,125.15 496.5,114.02 518.2,95.76 539.9,75.94 561.6,75.94 583.3,105.11 605,116.69" fill="none" stroke="#d46cb4" stroke-width="0.95" stroke-dasharray="5.5,3.3"/>
<circle cx="431.4" cy="139.63" r="1.4" fill="none" stroke="#d46cb4" stroke-width="0.8"/>
<circle cx="453.1" cy="134.06" r="1.4" fill="none" stroke="#d46cb4" stroke-width="0.8"/>
<circle cx="474.8" cy="125.15" r="1.4" fill="none" stroke="#d46cb4" stroke-width="0.8"/>
<circle cx="496.5" cy="114.02" r="1.4" fill="none" stroke="#d46cb4" stroke-width="0.8"/>
<circle cx="518.2" cy="95.76" r="1.4" fill="none" stroke="#d46cb4" stroke-width="0.8"/>
<circle cx="539.9" cy="75.94" r="1.4" fill="none" stroke="#d46cb4" stroke-width="0.8"/>
<circle cx="561.6" cy="75.94" r="1.4" fill="none" stroke="#d46cb4" stroke-width="0.8"/>
<circle cx="583.3" cy="105.11" r="1.4" fill="none" stroke="#d46cb4" stroke-width="0.8"/>
<circle cx="605" cy="116.69" r="1.4" fill="none" stroke="#d46cb4" stroke-width="0.8"/>
<polyline points="431.4,144.53 453.1,148.76 474.8,150.2 496.5,148.2 518.2,140.29 539.9,135.4 561.6,140.07 583.3,139.63 605,133.17" fill="none" stroke="#f01c24" stroke-width="1.15"/>
<circle cx="431.4" cy="144.53" r="1.6" fill="#f01c24"/>
<circle cx="453.1" cy="148.76" r="1.6" fill="#f01c24"/>
<circle cx="474.8" cy="150.2" r="1.6" fill="#f01c24"/>
<circle cx="496.5" cy="148.2" r="1.6" fill="#f01c24"/>
<circle cx="518.2" cy="140.29" r="1.6" fill="#f01c24"/>
<circle cx="539.9" cy="135.4" r="1.6" fill="#f01c24"/>
<circle cx="561.6" cy="140.07" r="1.6" fill="#f01c24"/>
<circle cx="583.3" cy="139.63" r="1.6" fill="#f01c24"/>
<circle cx="605" cy="133.17" r="1.6" fill="#f01c24"/>
<polyline points="431.4,147.42 453.1,146.31 474.8,146.31 496.5,139.18 518.2,125.6 539.9,115.58 561.6,125.38 583.3,133.39 605,133.17" fill="none" stroke="#ffa4d8" stroke-width="1.15"/>
<circle cx="431.4" cy="147.42" r="1.6" fill="#ffa4d8"/>
<circle cx="453.1" cy="146.31" r="1.6" fill="#ffa4d8"/>
<circle cx="474.8" cy="146.31" r="1.6" fill="#ffa4d8"/>
<circle cx="496.5" cy="139.18" r="1.6" fill="#ffa4d8"/>
<circle cx="518.2" cy="125.6" r="1.6" fill="#ffa4d8"/>
<circle cx="539.9" cy="115.58" r="1.6" fill="#ffa4d8"/>
<circle cx="561.6" cy="125.38" r="1.6" fill="#ffa4d8"/>
<circle cx="583.3" cy="133.39" r="1.6" fill="#ffa4d8"/>
<circle cx="605" cy="133.17" r="1.6" fill="#ffa4d8"/>
<polyline points="431.4,142.97 453.1,144.53 474.8,138.96 496.5,126.71 518.2,108.68 539.9,90.42 561.6,102.89 583.3,121.81 605,129.61" fill="none" stroke="#f68c3c" stroke-width="1.15"/>
<circle cx="431.4" cy="142.97" r="1.6" fill="#f68c3c"/>
<circle cx="453.1" cy="144.53" r="1.6" fill="#f68c3c"/>
<circle cx="474.8" cy="138.96" r="1.6" fill="#f68c3c"/>
<circle cx="496.5" cy="126.71" r="1.6" fill="#f68c3c"/>
<circle cx="518.2" cy="108.68" r="1.6" fill="#f68c3c"/>
<circle cx="539.9" cy="90.42" r="1.6" fill="#f68c3c"/>
<circle cx="561.6" cy="102.89" r="1.6" fill="#f68c3c"/>
<circle cx="583.3" cy="121.81" r="1.6" fill="#f68c3c"/>
<circle cx="605" cy="129.61" r="1.6" fill="#f68c3c"/>
<polyline points="431.4,149.65 453.1,144.53 474.8,136.29 496.5,122.93 518.2,104 539.9,84.18 561.6,92.87 583.3,112.91 605,124.49" fill="none" stroke="#26b426" stroke-width="1.15"/>
<circle cx="431.4" cy="149.65" r="1.6" fill="#26b426"/>
<circle cx="453.1" cy="144.53" r="1.6" fill="#26b426"/>
<circle cx="474.8" cy="136.29" r="1.6" fill="#26b426"/>
<circle cx="496.5" cy="122.93" r="1.6" fill="#26b426"/>
<circle cx="518.2" cy="104" r="1.6" fill="#26b426"/>
<circle cx="539.9" cy="84.18" r="1.6" fill="#26b426"/>
<circle cx="561.6" cy="92.87" r="1.6" fill="#26b426"/>
<circle cx="583.3" cy="112.91" r="1.6" fill="#26b426"/>
<circle cx="605" cy="124.49" r="1.6" fill="#26b426"/>
<polyline points="431.4,148.76 453.1,144.08 474.8,135.4 496.5,122.93 518.2,106.23 539.9,87.3 561.6,94.43 583.3,112.68 605,125.15" fill="none" stroke="#d46cb4" stroke-width="1.15"/>
<circle cx="431.4" cy="148.76" r="1.6" fill="#d46cb4"/>
<circle cx="453.1" cy="144.08" r="1.6" fill="#d46cb4"/>
<circle cx="474.8" cy="135.4" r="1.6" fill="#d46cb4"/>
<circle cx="496.5" cy="122.93" r="1.6" fill="#d46cb4"/>
<circle cx="518.2" cy="106.23" r="1.6" fill="#d46cb4"/>
<circle cx="539.9" cy="87.3" r="1.6" fill="#d46cb4"/>
<circle cx="561.6" cy="94.43" r="1.6" fill="#d46cb4"/>
<circle cx="583.3" cy="112.68" r="1.6" fill="#d46cb4"/>
<circle cx="605" cy="125.15" r="1.6" fill="#d46cb4"/>
<polyline points="431.4,149.65 453.1,143.86 474.8,135.4 496.5,122.04 518.2,103.33 539.9,85.07 561.6,92.87 583.3,112.24 605,124.49" fill="none" stroke="#2544dc" stroke-width="1.15"/>
<circle cx="431.4" cy="149.65" r="1.6" fill="#2544dc"/>
<circle cx="453.1" cy="143.86" r="1.6" fill="#2544dc"/>
<circle cx="474.8" cy="135.4" r="1.6" fill="#2544dc"/>
<circle cx="496.5" cy="122.04" r="1.6" fill="#2544dc"/>
<circle cx="518.2" cy="103.33" r="1.6" fill="#2544dc"/>
<circle cx="539.9" cy="85.07" r="1.6" fill="#2544dc"/>
<circle cx="561.6" cy="92.87" r="1.6" fill="#2544dc"/>
<circle cx="583.3" cy="112.24" r="1.6" fill="#2544dc"/>
<circle cx="605" cy="124.49" r="1.6" fill="#2544dc"/>
<rect x="426.9" y="20.4" width="182.9" height="133.7" fill="none" stroke="#3c3c3c" stroke-width="1.2"/>
<line x1="431.4" y1="154.1" x2="431.4" y2="152.1" stroke="#3c3c3c" stroke-width="0.9"/>
<line x1="431.4" y1="20.4" x2="431.4" y2="22.4" stroke="#3c3c3c" stroke-width="0.9"/>
<text x="431.4" y="165.3" class="tk" text-anchor="middle">0</text>
<line x1="457.8" y1="154.1" x2="457.8" y2="152.1" stroke="#3c3c3c" stroke-width="0.9"/>
<line x1="457.8" y1="20.4" x2="457.8" y2="22.4" stroke="#3c3c3c" stroke-width="0.9"/>
<text x="457.8" y="165.3" class="tk" text-anchor="middle">1</text>
<line x1="484.2" y1="154.1" x2="484.2" y2="152.1" stroke="#3c3c3c" stroke-width="0.9"/>
<line x1="484.2" y1="20.4" x2="484.2" y2="22.4" stroke="#3c3c3c" stroke-width="0.9"/>
<text x="484.2" y="165.3" class="tk" text-anchor="middle">2</text>
<line x1="510.6" y1="154.1" x2="510.6" y2="152.1" stroke="#3c3c3c" stroke-width="0.9"/>
<line x1="510.6" y1="20.4" x2="510.6" y2="22.4" stroke="#3c3c3c" stroke-width="0.9"/>
<text x="510.6" y="165.3" class="tk" text-anchor="middle">3</text>
<line x1="537" y1="154.1" x2="537" y2="152.1" stroke="#3c3c3c" stroke-width="0.9"/>
<line x1="537" y1="20.4" x2="537" y2="22.4" stroke="#3c3c3c" stroke-width="0.9"/>
<text x="537" y="165.3" class="tk" text-anchor="middle">4</text>
<line x1="563.4" y1="154.1" x2="563.4" y2="152.1" stroke="#3c3c3c" stroke-width="0.9"/>
<line x1="563.4" y1="20.4" x2="563.4" y2="22.4" stroke="#3c3c3c" stroke-width="0.9"/>
<text x="563.4" y="165.3" class="tk" text-anchor="middle">5</text>
<line x1="589.8" y1="154.1" x2="589.8" y2="152.1" stroke="#3c3c3c" stroke-width="0.9"/>
<line x1="589.8" y1="20.4" x2="589.8" y2="22.4" stroke="#3c3c3c" stroke-width="0.9"/>
<text x="589.8" y="165.3" class="tk" text-anchor="middle">6</text>
<line x1="426.9" y1="154.1" x2="428.9" y2="154.1" stroke="#3c3c3c" stroke-width="0.9"/>
<line x1="609.8" y1="154.1" x2="607.8" y2="154.1" stroke="#3c3c3c" stroke-width="0.9"/>
<text x="423.6" y="157.8" class="tk" text-anchor="end">0</text>
<line x1="426.9" y1="131.83" x2="428.9" y2="131.83" stroke="#3c3c3c" stroke-width="0.9"/>
<line x1="609.8" y1="131.83" x2="607.8" y2="131.83" stroke="#3c3c3c" stroke-width="0.9"/>
<text x="423.6" y="135.53" class="tk" text-anchor="end">10</text>
<line x1="426.9" y1="109.57" x2="428.9" y2="109.57" stroke="#3c3c3c" stroke-width="0.9"/>
<line x1="609.8" y1="109.57" x2="607.8" y2="109.57" stroke="#3c3c3c" stroke-width="0.9"/>
<text x="423.6" y="113.27" class="tk" text-anchor="end">20</text>
<line x1="426.9" y1="87.3" x2="428.9" y2="87.3" stroke="#3c3c3c" stroke-width="0.9"/>
<line x1="609.8" y1="87.3" x2="607.8" y2="87.3" stroke="#3c3c3c" stroke-width="0.9"/>
<text x="423.6" y="91" class="tk" text-anchor="end">30</text>
<line x1="426.9" y1="65.03" x2="428.9" y2="65.03" stroke="#3c3c3c" stroke-width="0.9"/>
<line x1="609.8" y1="65.03" x2="607.8" y2="65.03" stroke="#3c3c3c" stroke-width="0.9"/>
<text x="423.6" y="68.73" class="tk" text-anchor="end">40</text>
<line x1="426.9" y1="42.77" x2="428.9" y2="42.77" stroke="#3c3c3c" stroke-width="0.9"/>
<line x1="609.8" y1="42.77" x2="607.8" y2="42.77" stroke="#3c3c3c" stroke-width="0.9"/>
<text x="423.6" y="46.47" class="tk" text-anchor="end">50</text>
<line x1="426.9" y1="20.5" x2="428.9" y2="20.5" stroke="#3c3c3c" stroke-width="0.9"/>
<line x1="609.8" y1="20.5" x2="607.8" y2="20.5" stroke="#3c3c3c" stroke-width="0.9"/>
<text x="423.6" y="24.2" class="tk" text-anchor="end">60</text>
<text x="518.3" y="176.2" class="xl" style="font-size:9.9px;stroke-width:0.15px" text-anchor="middle">x (mm)</text>
<rect x="430.4" y="24" width="41.3" height="61" fill="#fff" stroke="#3c3c3c" stroke-width="1"/>
<line x1="432.6" y1="29.2" x2="444.9" y2="29.2" stroke="#f01c24" stroke-width="1.3"/>
<circle cx="438.75" cy="29.2" r="1.6" fill="#f01c24"/>
<text x="446.7" y="32.1" class="leg" style="font-size:8.9px">16 hrs</text>
<line x1="432.6" y1="39.15" x2="444.9" y2="39.15" stroke="#ffa4d8" stroke-width="1.3"/>
<circle cx="438.75" cy="39.15" r="1.6" fill="#ffa4d8"/>
<text x="446.7" y="42.05" class="leg" style="font-size:8.9px">27 hrs</text>
<line x1="432.6" y1="49.1" x2="444.9" y2="49.1" stroke="#f68c3c" stroke-width="1.3"/>
<circle cx="438.75" cy="49.1" r="1.6" fill="#f68c3c"/>
<text x="446.7" y="52" class="leg" style="font-size:8.9px">59 hrs</text>
<line x1="432.6" y1="59.05" x2="444.9" y2="59.05" stroke="#26b426" stroke-width="1.3"/>
<circle cx="438.75" cy="59.05" r="1.6" fill="#26b426"/>
<text x="446.7" y="61.95" class="leg" style="font-size:8.9px">78 hrs</text>
<line x1="432.6" y1="69" x2="444.9" y2="69" stroke="#2544dc" stroke-width="1.3"/>
<circle cx="438.75" cy="69" r="1.6" fill="#2544dc"/>
<text x="446.7" y="71.9" class="leg" style="font-size:8.9px">85 hrs</text>
<line x1="432.6" y1="78.95" x2="444.9" y2="78.95" stroke="#d46cb4" stroke-width="1.3"/>
<circle cx="438.75" cy="78.95" r="1.6" fill="#d46cb4"/>
<text x="446.7" y="81.85" class="leg" style="font-size:8.9px">91 hrs</text>
<rect x="479.3" y="22.3" width="42.1" height="21.3" fill="#86f3f7"/>
<rect x="521.4" y="22.3" width="42.2" height="21.3" fill="#fff"/>
<rect x="563.6" y="22.3" width="42.8" height="21.3" fill="#86f3f7"/>
<rect x="479.3" y="22.3" width="127.1" height="21.3" fill="none" stroke="#3c3c3c" stroke-width="1"/>
<line x1="521.4" y1="22.3" x2="521.4" y2="43.6" stroke="#3c3c3c" stroke-width="1"/>
<line x1="563.6" y1="22.3" x2="563.6" y2="43.6" stroke="#3c3c3c" stroke-width="1"/>
<text x="480.3" y="30.8" class="hd" textLength="31.1" lengthAdjust="spacingAndGlyphs">I<tspan font-size="5" dy="1.6">0</tspan><tspan dy="-1.6">=300 nM</tspan></text>
<text x="480.3" y="39" class="hd" textLength="40.5" lengthAdjust="spacingAndGlyphs">Rec<tspan font-size="5" dy="1.6">0</tspan><tspan dy="-1.6">=600 nM</tspan></text>
<text x="523" y="36.2" class="hd" textLength="39.4" lengthAdjust="spacingAndGlyphs">Rec<tspan font-size="5" dy="1.6">0</tspan><tspan dy="-1.6">=600 nM</tspan></text>
<text x="564.6" y="30.8" class="hd" textLength="33.4" lengthAdjust="spacingAndGlyphs">S<tspan font-size="5" dy="1.6">0</tspan><tspan dy="-1.6">=300 nM</tspan></text>
<text x="564.6" y="39" class="hd" textLength="40.9" lengthAdjust="spacingAndGlyphs">Rec<tspan font-size="5" dy="1.6">0</tspan><tspan dy="-1.6">=600 nM</tspan></text>
<polyline points="636,151.25 648.64,148.97 661.28,145.76 673.92,139.73 686.56,131.55 699.2,120.16 711.84,105.02 724.48,89.21 737.12,89.34 749.76,105.96 762.4,123.11 775.04,132.89 787.68,141.2 800.32,147.23" fill="none" stroke="#f01c24" stroke-width="0.95" stroke-dasharray="5.5,3.3"/>
<circle cx="636" cy="151.25" r="1.4" fill="none" stroke="#f01c24" stroke-width="0.8"/>
<circle cx="648.64" cy="148.97" r="1.4" fill="none" stroke="#f01c24" stroke-width="0.8"/>
<circle cx="661.28" cy="145.76" r="1.4" fill="none" stroke="#f01c24" stroke-width="0.8"/>
<circle cx="673.92" cy="139.73" r="1.4" fill="none" stroke="#f01c24" stroke-width="0.8"/>
<circle cx="686.56" cy="131.55" r="1.4" fill="none" stroke="#f01c24" stroke-width="0.8"/>
<circle cx="699.2" cy="120.16" r="1.4" fill="none" stroke="#f01c24" stroke-width="0.8"/>
<circle cx="711.84" cy="105.02" r="1.4" fill="none" stroke="#f01c24" stroke-width="0.8"/>
<circle cx="724.48" cy="89.21" r="1.4" fill="none" stroke="#f01c24" stroke-width="0.8"/>
<circle cx="737.12" cy="89.34" r="1.4" fill="none" stroke="#f01c24" stroke-width="0.8"/>
<circle cx="749.76" cy="105.96" r="1.4" fill="none" stroke="#f01c24" stroke-width="0.8"/>
<circle cx="762.4" cy="123.11" r="1.4" fill="none" stroke="#f01c24" stroke-width="0.8"/>
<circle cx="775.04" cy="132.89" r="1.4" fill="none" stroke="#f01c24" stroke-width="0.8"/>
<circle cx="787.68" cy="141.2" r="1.4" fill="none" stroke="#f01c24" stroke-width="0.8"/>
<circle cx="800.32" cy="147.23" r="1.4" fill="none" stroke="#f01c24" stroke-width="0.8"/>
<polyline points="636,147.23 648.64,143.21 661.28,137.85 673.92,131.15 686.56,123.11 699.2,111.72 711.84,95.64 724.48,78.76 737.12,77.55 749.76,94.3 762.4,111.72 775.04,125.12 787.68,131.82 800.32,133.29" fill="none" stroke="#ffa4d8" stroke-width="0.95" stroke-dasharray="5.5,3.3"/>
<circle cx="636" cy="147.23" r="1.4" fill="none" stroke="#ffa4d8" stroke-width="0.8"/>
<circle cx="648.64" cy="143.21" r="1.4" fill="none" stroke="#ffa4d8" stroke-width="0.8"/>
<circle cx="661.28" cy="137.85" r="1.4" fill="none" stroke="#ffa4d8" stroke-width="0.8"/>
<circle cx="673.92" cy="131.15" r="1.4" fill="none" stroke="#ffa4d8" stroke-width="0.8"/>
<circle cx="686.56" cy="123.11" r="1.4" fill="none" stroke="#ffa4d8" stroke-width="0.8"/>
<circle cx="699.2" cy="111.72" r="1.4" fill="none" stroke="#ffa4d8" stroke-width="0.8"/>
<circle cx="711.84" cy="95.64" r="1.4" fill="none" stroke="#ffa4d8" stroke-width="0.8"/>
<circle cx="724.48" cy="78.76" r="1.4" fill="none" stroke="#ffa4d8" stroke-width="0.8"/>
<circle cx="737.12" cy="77.55" r="1.4" fill="none" stroke="#ffa4d8" stroke-width="0.8"/>
<circle cx="749.76" cy="94.3" r="1.4" fill="none" stroke="#ffa4d8" stroke-width="0.8"/>
<circle cx="762.4" cy="111.72" r="1.4" fill="none" stroke="#ffa4d8" stroke-width="0.8"/>
<circle cx="775.04" cy="125.12" r="1.4" fill="none" stroke="#ffa4d8" stroke-width="0.8"/>
<circle cx="787.68" cy="131.82" r="1.4" fill="none" stroke="#ffa4d8" stroke-width="0.8"/>
<circle cx="800.32" cy="133.29" r="1.4" fill="none" stroke="#ffa4d8" stroke-width="0.8"/>
<polyline points="636,145.22 648.64,139.86 661.28,134.5 673.92,127.8 686.56,118.42 699.2,104.22 711.84,86.53 724.48,58.39 737.12,64.02 749.76,84.92 762.4,103.68 775.04,118.42 787.68,127.8 800.32,134.5" fill="none" stroke="#f68c3c" stroke-width="0.95" stroke-dasharray="5.5,3.3"/>
<circle cx="636" cy="145.22" r="1.4" fill="none" stroke="#f68c3c" stroke-width="0.8"/>
<circle cx="648.64" cy="139.86" r="1.4" fill="none" stroke="#f68c3c" stroke-width="0.8"/>
<circle cx="661.28" cy="134.5" r="1.4" fill="none" stroke="#f68c3c" stroke-width="0.8"/>
<circle cx="673.92" cy="127.8" r="1.4" fill="none" stroke="#f68c3c" stroke-width="0.8"/>
<circle cx="686.56" cy="118.42" r="1.4" fill="none" stroke="#f68c3c" stroke-width="0.8"/>
<circle cx="699.2" cy="104.22" r="1.4" fill="none" stroke="#f68c3c" stroke-width="0.8"/>
<circle cx="711.84" cy="86.53" r="1.4" fill="none" stroke="#f68c3c" stroke-width="0.8"/>
<circle cx="724.48" cy="58.39" r="1.4" fill="none" stroke="#f68c3c" stroke-width="0.8"/>
<circle cx="737.12" cy="64.02" r="1.4" fill="none" stroke="#f68c3c" stroke-width="0.8"/>
<circle cx="749.76" cy="84.92" r="1.4" fill="none" stroke="#f68c3c" stroke-width="0.8"/>
<circle cx="762.4" cy="103.68" r="1.4" fill="none" stroke="#f68c3c" stroke-width="0.8"/>
<circle cx="775.04" cy="118.42" r="1.4" fill="none" stroke="#f68c3c" stroke-width="0.8"/>
<circle cx="787.68" cy="127.8" r="1.4" fill="none" stroke="#f68c3c" stroke-width="0.8"/>
<circle cx="800.32" cy="134.5" r="1.4" fill="none" stroke="#f68c3c" stroke-width="0.8"/>
<polyline points="636,138.52 648.64,135.84 661.28,130.48 673.92,123.78 686.56,116.54 699.2,106.36 711.84,93.36 724.48,68.44 737.12,66.56 749.76,76.88 762.4,94.3 775.04,110.38 787.68,121.1 800.32,130.48" fill="none" stroke="#26b426" stroke-width="0.95" stroke-dasharray="5.5,3.3"/>
<circle cx="636" cy="138.52" r="1.4" fill="none" stroke="#26b426" stroke-width="0.8"/>
<circle cx="648.64" cy="135.84" r="1.4" fill="none" stroke="#26b426" stroke-width="0.8"/>
<circle cx="661.28" cy="130.48" r="1.4" fill="none" stroke="#26b426" stroke-width="0.8"/>
<circle cx="673.92" cy="123.78" r="1.4" fill="none" stroke="#26b426" stroke-width="0.8"/>
<circle cx="686.56" cy="116.54" r="1.4" fill="none" stroke="#26b426" stroke-width="0.8"/>
<circle cx="699.2" cy="106.36" r="1.4" fill="none" stroke="#26b426" stroke-width="0.8"/>
<circle cx="711.84" cy="93.36" r="1.4" fill="none" stroke="#26b426" stroke-width="0.8"/>
<circle cx="724.48" cy="68.44" r="1.4" fill="none" stroke="#26b426" stroke-width="0.8"/>
<circle cx="737.12" cy="66.56" r="1.4" fill="none" stroke="#26b426" stroke-width="0.8"/>
<circle cx="749.76" cy="76.88" r="1.4" fill="none" stroke="#26b426" stroke-width="0.8"/>
<circle cx="762.4" cy="94.3" r="1.4" fill="none" stroke="#26b426" stroke-width="0.8"/>
<circle cx="775.04" cy="110.38" r="1.4" fill="none" stroke="#26b426" stroke-width="0.8"/>
<circle cx="787.68" cy="121.1" r="1.4" fill="none" stroke="#26b426" stroke-width="0.8"/>
<circle cx="800.32" cy="130.48" r="1.4" fill="none" stroke="#26b426" stroke-width="0.8"/>
<polyline points="636,139.73 648.64,135.97 661.28,129.94 673.92,125.66 686.56,118.15 699.2,109.04 711.84,93.36 724.48,75 737.12,71.39 749.76,78.76 762.4,92.96 775.04,107.16 787.68,118.42 800.32,127.8" fill="none" stroke="#2544dc" stroke-width="0.95" stroke-dasharray="5.5,3.3"/>
<circle cx="636" cy="139.73" r="1.4" fill="none" stroke="#2544dc" stroke-width="0.8"/>
<circle cx="648.64" cy="135.97" r="1.4" fill="none" stroke="#2544dc" stroke-width="0.8"/>
<circle cx="661.28" cy="129.94" r="1.4" fill="none" stroke="#2544dc" stroke-width="0.8"/>
<circle cx="673.92" cy="125.66" r="1.4" fill="none" stroke="#2544dc" stroke-width="0.8"/>
<circle cx="686.56" cy="118.15" r="1.4" fill="none" stroke="#2544dc" stroke-width="0.8"/>
<circle cx="699.2" cy="109.04" r="1.4" fill="none" stroke="#2544dc" stroke-width="0.8"/>
<circle cx="711.84" cy="93.36" r="1.4" fill="none" stroke="#2544dc" stroke-width="0.8"/>
<circle cx="724.48" cy="75" r="1.4" fill="none" stroke="#2544dc" stroke-width="0.8"/>
<circle cx="737.12" cy="71.39" r="1.4" fill="none" stroke="#2544dc" stroke-width="0.8"/>
<circle cx="749.76" cy="78.76" r="1.4" fill="none" stroke="#2544dc" stroke-width="0.8"/>
<circle cx="762.4" cy="92.96" r="1.4" fill="none" stroke="#2544dc" stroke-width="0.8"/>
<circle cx="775.04" cy="107.16" r="1.4" fill="none" stroke="#2544dc" stroke-width="0.8"/>
<circle cx="787.68" cy="118.42" r="1.4" fill="none" stroke="#2544dc" stroke-width="0.8"/>
<circle cx="800.32" cy="127.8" r="1.4" fill="none" stroke="#2544dc" stroke-width="0.8"/>
<polyline points="636,150.71 648.64,153.13 661.28,153.93 673.92,154.2 686.56,154.2 699.2,153.93 711.84,153.26 724.48,151.52 737.12,151.25 749.76,150.98 762.4,149.24 775.04,147.36 787.68,144.95 800.32,142.54" fill="none" stroke="#f01c24" stroke-width="1.15"/>
<circle cx="636" cy="150.71" r="1.6" fill="#f01c24"/>
<circle cx="648.64" cy="153.13" r="1.6" fill="#f01c24"/>
<circle cx="661.28" cy="153.93" r="1.6" fill="#f01c24"/>
<circle cx="673.92" cy="154.2" r="1.6" fill="#f01c24"/>
<circle cx="686.56" cy="154.2" r="1.6" fill="#f01c24"/>
<circle cx="699.2" cy="153.93" r="1.6" fill="#f01c24"/>
<circle cx="711.84" cy="153.26" r="1.6" fill="#f01c24"/>
<circle cx="724.48" cy="151.52" r="1.6" fill="#f01c24"/>
<circle cx="737.12" cy="151.25" r="1.6" fill="#f01c24"/>
<circle cx="749.76" cy="150.98" r="1.6" fill="#f01c24"/>
<circle cx="762.4" cy="149.24" r="1.6" fill="#f01c24"/>
<circle cx="775.04" cy="147.36" r="1.6" fill="#f01c24"/>
<circle cx="787.68" cy="144.95" r="1.6" fill="#f01c24"/>
<circle cx="800.32" cy="142.54" r="1.6" fill="#f01c24"/>
<polyline points="636,147.9 648.64,142.54 661.28,137.18 673.92,132.36 686.56,124.32 699.2,112.79 711.84,97.78 724.48,87.2 737.12,91.62 749.76,107.7 762.4,121.64 775.04,130.88 787.68,136.24 800.32,137.18" fill="none" stroke="#ffa4d8" stroke-width="1.15"/>
<circle cx="636" cy="147.9" r="1.6" fill="#ffa4d8"/>
<circle cx="648.64" cy="142.54" r="1.6" fill="#ffa4d8"/>
<circle cx="661.28" cy="137.18" r="1.6" fill="#ffa4d8"/>
<circle cx="673.92" cy="132.36" r="1.6" fill="#ffa4d8"/>
<circle cx="686.56" cy="124.32" r="1.6" fill="#ffa4d8"/>
<circle cx="699.2" cy="112.79" r="1.6" fill="#ffa4d8"/>
<circle cx="711.84" cy="97.78" r="1.6" fill="#ffa4d8"/>
<circle cx="724.48" cy="87.2" r="1.6" fill="#ffa4d8"/>
<circle cx="737.12" cy="91.62" r="1.6" fill="#ffa4d8"/>
<circle cx="749.76" cy="107.7" r="1.6" fill="#ffa4d8"/>
<circle cx="762.4" cy="121.64" r="1.6" fill="#ffa4d8"/>
<circle cx="775.04" cy="130.88" r="1.6" fill="#ffa4d8"/>
<circle cx="787.68" cy="136.24" r="1.6" fill="#ffa4d8"/>
<circle cx="800.32" cy="137.18" r="1.6" fill="#ffa4d8"/>
<polyline points="636,146.56 648.64,139.73 661.28,131.15 673.92,122.17 686.56,108.64 699.2,91.62 711.84,68.84 724.48,46.19 737.12,54.23 749.76,80.77 762.4,103.55 775.04,119.36 787.68,130.48 800.32,137.85" fill="none" stroke="#f68c3c" stroke-width="1.15"/>
<circle cx="636" cy="146.56" r="1.6" fill="#f68c3c"/>
<circle cx="648.64" cy="139.73" r="1.6" fill="#f68c3c"/>
<circle cx="661.28" cy="131.15" r="1.6" fill="#f68c3c"/>
<circle cx="673.92" cy="122.17" r="1.6" fill="#f68c3c"/>
<circle cx="686.56" cy="108.64" r="1.6" fill="#f68c3c"/>
<circle cx="699.2" cy="91.62" r="1.6" fill="#f68c3c"/>
<circle cx="711.84" cy="68.84" r="1.6" fill="#f68c3c"/>
<circle cx="724.48" cy="46.19" r="1.6" fill="#f68c3c"/>
<circle cx="737.12" cy="54.23" r="1.6" fill="#f68c3c"/>
<circle cx="749.76" cy="80.77" r="1.6" fill="#f68c3c"/>
<circle cx="762.4" cy="103.55" r="1.6" fill="#f68c3c"/>
<circle cx="775.04" cy="119.36" r="1.6" fill="#f68c3c"/>
<circle cx="787.68" cy="130.48" r="1.6" fill="#f68c3c"/>
<circle cx="800.32" cy="137.85" r="1.6" fill="#f68c3c"/>
<polyline points="636,134.77 648.64,131.55 661.28,126.19 673.92,116.54 686.56,105.56 699.2,89.74 711.84,70.18 724.48,50.62 737.12,54.23 749.76,75.14 762.4,96.71 775.04,113.33 787.68,123.65 800.32,130.48" fill="none" stroke="#26b426" stroke-width="1.15"/>
<circle cx="636" cy="134.77" r="1.6" fill="#26b426"/>
<circle cx="648.64" cy="131.55" r="1.6" fill="#26b426"/>
<circle cx="661.28" cy="126.19" r="1.6" fill="#26b426"/>
<circle cx="673.92" cy="116.54" r="1.6" fill="#26b426"/>
<circle cx="686.56" cy="105.56" r="1.6" fill="#26b426"/>
<circle cx="699.2" cy="89.74" r="1.6" fill="#26b426"/>
<circle cx="711.84" cy="70.18" r="1.6" fill="#26b426"/>
<circle cx="724.48" cy="50.62" r="1.6" fill="#26b426"/>
<circle cx="737.12" cy="54.23" r="1.6" fill="#26b426"/>
<circle cx="749.76" cy="75.14" r="1.6" fill="#26b426"/>
<circle cx="762.4" cy="96.71" r="1.6" fill="#26b426"/>
<circle cx="775.04" cy="113.33" r="1.6" fill="#26b426"/>
<circle cx="787.68" cy="123.65" r="1.6" fill="#26b426"/>
<circle cx="800.32" cy="130.48" r="1.6" fill="#26b426"/>
<polyline points="636,143.34 648.64,135.44 661.28,124.99 673.92,111.99 686.56,98.05 699.2,83.04 711.84,66.03 724.48,48.07 737.12,51.29 749.76,73.4 762.4,94.17 775.04,111.32 787.68,119.36 800.32,126.46" fill="none" stroke="#2544dc" stroke-width="1.15"/>
<circle cx="636" cy="143.34" r="1.6" fill="#2544dc"/>
<circle cx="648.64" cy="135.44" r="1.6" fill="#2544dc"/>
<circle cx="661.28" cy="124.99" r="1.6" fill="#2544dc"/>
<circle cx="673.92" cy="111.99" r="1.6" fill="#2544dc"/>
<circle cx="686.56" cy="98.05" r="1.6" fill="#2544dc"/>
<circle cx="699.2" cy="83.04" r="1.6" fill="#2544dc"/>
<circle cx="711.84" cy="66.03" r="1.6" fill="#2544dc"/>
<circle cx="724.48" cy="48.07" r="1.6" fill="#2544dc"/>
<circle cx="737.12" cy="51.29" r="1.6" fill="#2544dc"/>
<circle cx="749.76" cy="73.4" r="1.6" fill="#2544dc"/>
<circle cx="762.4" cy="94.17" r="1.6" fill="#2544dc"/>
<circle cx="775.04" cy="111.32" r="1.6" fill="#2544dc"/>
<circle cx="787.68" cy="119.36" r="1.6" fill="#2544dc"/>
<circle cx="800.32" cy="126.46" r="1.6" fill="#2544dc"/>
<rect x="631.5" y="20.3" width="179" height="134.3" fill="none" stroke="#3c3c3c" stroke-width="1.2"/>
<line x1="635.6" y1="154.6" x2="635.6" y2="152.6" stroke="#3c3c3c" stroke-width="0.9"/>
<line x1="635.6" y1="20.3" x2="635.6" y2="22.3" stroke="#3c3c3c" stroke-width="0.9"/>
<text x="635.6" y="166.1" class="tk" text-anchor="middle">0</text>
<line x1="660.9" y1="154.6" x2="660.9" y2="152.6" stroke="#3c3c3c" stroke-width="0.9"/>
<line x1="660.9" y1="20.3" x2="660.9" y2="22.3" stroke="#3c3c3c" stroke-width="0.9"/>
<text x="660.9" y="166.1" class="tk" text-anchor="middle">1</text>
<line x1="686.2" y1="154.6" x2="686.2" y2="152.6" stroke="#3c3c3c" stroke-width="0.9"/>
<line x1="686.2" y1="20.3" x2="686.2" y2="22.3" stroke="#3c3c3c" stroke-width="0.9"/>
<text x="686.2" y="166.1" class="tk" text-anchor="middle">2</text>
<line x1="711.5" y1="154.6" x2="711.5" y2="152.6" stroke="#3c3c3c" stroke-width="0.9"/>
<line x1="711.5" y1="20.3" x2="711.5" y2="22.3" stroke="#3c3c3c" stroke-width="0.9"/>
<text x="711.5" y="166.1" class="tk" text-anchor="middle">3</text>
<line x1="736.8" y1="154.6" x2="736.8" y2="152.6" stroke="#3c3c3c" stroke-width="0.9"/>
<line x1="736.8" y1="20.3" x2="736.8" y2="22.3" stroke="#3c3c3c" stroke-width="0.9"/>
<text x="736.8" y="166.1" class="tk" text-anchor="middle">4</text>
<line x1="762.1" y1="154.6" x2="762.1" y2="152.6" stroke="#3c3c3c" stroke-width="0.9"/>
<line x1="762.1" y1="20.3" x2="762.1" y2="22.3" stroke="#3c3c3c" stroke-width="0.9"/>
<text x="762.1" y="166.1" class="tk" text-anchor="middle">5</text>
<line x1="787.4" y1="154.6" x2="787.4" y2="152.6" stroke="#3c3c3c" stroke-width="0.9"/>
<line x1="787.4" y1="20.3" x2="787.4" y2="22.3" stroke="#3c3c3c" stroke-width="0.9"/>
<text x="787.4" y="166.1" class="tk" text-anchor="middle">6</text>
<line x1="631.5" y1="154.6" x2="633.5" y2="154.6" stroke="#3c3c3c" stroke-width="0.9"/>
<line x1="810.5" y1="154.6" x2="808.5" y2="154.6" stroke="#3c3c3c" stroke-width="0.9"/>
<text x="627.8" y="158.3" class="tk" text-anchor="end">0</text>
<line x1="631.5" y1="127.8" x2="633.5" y2="127.8" stroke="#3c3c3c" stroke-width="0.9"/>
<line x1="810.5" y1="127.8" x2="808.5" y2="127.8" stroke="#3c3c3c" stroke-width="0.9"/>
<text x="627.8" y="131.5" class="tk" text-anchor="end">20</text>
<line x1="631.5" y1="101" x2="633.5" y2="101" stroke="#3c3c3c" stroke-width="0.9"/>
<line x1="810.5" y1="101" x2="808.5" y2="101" stroke="#3c3c3c" stroke-width="0.9"/>
<text x="627.8" y="104.7" class="tk" text-anchor="end">40</text>
<line x1="631.5" y1="74.2" x2="633.5" y2="74.2" stroke="#3c3c3c" stroke-width="0.9"/>
<line x1="810.5" y1="74.2" x2="808.5" y2="74.2" stroke="#3c3c3c" stroke-width="0.9"/>
<text x="627.8" y="77.9" class="tk" text-anchor="end">60</text>
<line x1="631.5" y1="47.4" x2="633.5" y2="47.4" stroke="#3c3c3c" stroke-width="0.9"/>
<line x1="810.5" y1="47.4" x2="808.5" y2="47.4" stroke="#3c3c3c" stroke-width="0.9"/>
<text x="627.8" y="51.1" class="tk" text-anchor="end">80</text>
<line x1="631.5" y1="20.6" x2="633.5" y2="20.6" stroke="#3c3c3c" stroke-width="0.9"/>
<line x1="810.5" y1="20.6" x2="808.5" y2="20.6" stroke="#3c3c3c" stroke-width="0.9"/>
<text x="627.8" y="24.3" class="tk" text-anchor="end">100</text>
<text x="721" y="176.2" class="xl" style="font-size:9.9px;stroke-width:0.15px" text-anchor="middle">x (mm)</text>
<rect x="767" y="24.4" width="39.4" height="51" fill="#fff" stroke="#3c3c3c" stroke-width="1"/>
<line x1="768.7" y1="29.6" x2="780.6" y2="29.6" stroke="#f01c24" stroke-width="1.3"/>
<circle cx="774.65" cy="29.6" r="1.6" fill="#f01c24"/>
<text x="782.4" y="32.5" class="leg" style="font-size:8.9px">12 hrs</text>
<line x1="768.7" y1="39.7" x2="780.6" y2="39.7" stroke="#ffa4d8" stroke-width="1.3"/>
<circle cx="774.65" cy="39.7" r="1.6" fill="#ffa4d8"/>
<text x="782.4" y="42.6" class="leg" style="font-size:8.9px">36 hrs</text>
<line x1="768.7" y1="49.8" x2="780.6" y2="49.8" stroke="#f68c3c" stroke-width="1.3"/>
<circle cx="774.65" cy="49.8" r="1.6" fill="#f68c3c"/>
<text x="782.4" y="52.7" class="leg" style="font-size:8.9px">60 hrs</text>
<line x1="768.7" y1="59.9" x2="780.6" y2="59.9" stroke="#26b426" stroke-width="1.3"/>
<circle cx="774.65" cy="59.9" r="1.6" fill="#26b426"/>
<text x="782.4" y="62.8" class="leg" style="font-size:8.9px">84 hrs</text>
<line x1="768.7" y1="70" x2="780.6" y2="70" stroke="#2544dc" stroke-width="1.3"/>
<circle cx="774.65" cy="70" r="1.6" fill="#2544dc"/>
<text x="782.4" y="72.9" class="leg" style="font-size:8.9px">96 hrs</text>
<rect x="632.7" y="22" width="42.6" height="20.8" fill="#86f3f7"/>
<rect x="675.3" y="22" width="42.2" height="20.8" fill="#fff"/>
<rect x="717.5" y="22" width="42.1" height="20.8" fill="#86f3f7"/>
<rect x="632.7" y="22" width="126.9" height="20.8" fill="none" stroke="#3c3c3c" stroke-width="1"/>
<line x1="675.3" y1="22" x2="675.3" y2="42.8" stroke="#3c3c3c" stroke-width="1"/>
<line x1="717.5" y1="22" x2="717.5" y2="42.8" stroke="#3c3c3c" stroke-width="1"/>
<text x="633.9" y="30.7" class="hd" textLength="30.9" lengthAdjust="spacingAndGlyphs">I<tspan font-size="5" dy="1.6">0</tspan><tspan dy="-1.6">=600 nM</tspan></text>
<text x="633.9" y="38.6" class="hd" textLength="40.1" lengthAdjust="spacingAndGlyphs">Rec<tspan font-size="5" dy="1.6">0</tspan><tspan dy="-1.6">=600 nM</tspan></text>
<text x="676.5" y="35.8" class="hd" textLength="39.3" lengthAdjust="spacingAndGlyphs">Rec<tspan font-size="5" dy="1.6">0</tspan><tspan dy="-1.6">=600 nM</tspan></text>
<text x="719.2" y="30.7" class="hd" textLength="32.6" lengthAdjust="spacingAndGlyphs">S<tspan font-size="5" dy="1.6">0</tspan><tspan dy="-1.6">=600 nM</tspan></text>
<text x="719.2" y="38.6" class="hd" textLength="39.3" lengthAdjust="spacingAndGlyphs">Rec<tspan font-size="5" dy="1.6">0</tspan><tspan dy="-1.6">=600 nM</tspan></text>
<defs><linearGradient id="g1" x1="0" y1="0" x2="1" y2="0">
<stop offset="0" stop-color="#1c2878"/>
<stop offset="0.11" stop-color="#243282"/>
<stop offset="0.11" stop-color="#3a4d9a"/>
<stop offset="0.22" stop-color="#44589f"/>
<stop offset="0.22" stop-color="#4a60a6"/>
<stop offset="0.33" stop-color="#5270aa"/>
<stop offset="0.33" stop-color="#5678ae"/>
<stop offset="0.44" stop-color="#5e84b2"/>
<stop offset="0.44" stop-color="#6690b6"/>
<stop offset="0.56" stop-color="#6a96b8"/>
<stop offset="0.56" stop-color="#6e9cba"/>
<stop offset="0.67" stop-color="#74a6bc"/>
<stop offset="0.67" stop-color="#78acbe"/>
<stop offset="0.78" stop-color="#7cb2bf"/>
<stop offset="0.78" stop-color="#80b8c0"/>
<stop offset="0.89" stop-color="#82bec2"/>
<stop offset="0.89" stop-color="#86c6c4"/>
<stop offset="1" stop-color="#8accc6"/>
</linearGradient></defs>
<rect x="23.8" y="179" width="184" height="20" fill="url(#g1)"/>
<defs><linearGradient id="g2" x1="0" y1="0" x2="1" y2="0">
<stop offset="0" stop-color="#06073e"/>
<stop offset="0.11" stop-color="#08093f"/>
<stop offset="0.15" stop-color="#141c64"/>
<stop offset="0.22" stop-color="#223080"/>
<stop offset="0.3" stop-color="#2e4090"/>
<stop offset="0.35" stop-color="#3a50a0"/>
<stop offset="0.41" stop-color="#4a64a8"/>
<stop offset="0.46" stop-color="#5878b0"/>
<stop offset="0.57" stop-color="#5e80b4"/>
<stop offset="0.57" stop-color="#6590b8"/>
<stop offset="0.67" stop-color="#6792b8"/>
<stop offset="0.67" stop-color="#6c9cba"/>
<stop offset="0.78" stop-color="#6c9cba"/>
<stop offset="0.78" stop-color="#6088b6"/>
<stop offset="0.89" stop-color="#5e84b4"/>
<stop offset="0.89" stop-color="#4e6aac"/>
<stop offset="1" stop-color="#4c68aa"/>
</linearGradient></defs>
<rect x="225.3" y="179" width="183.6" height="20" fill="url(#g2)"/>
<defs><linearGradient id="g3" x1="0" y1="0" x2="1" y2="0">
<stop offset="0" stop-color="#04053a"/>
<stop offset="0.1" stop-color="#05063c"/>
<stop offset="0.11" stop-color="#090b4c"/>
<stop offset="0.22" stop-color="#0e1258"/>
<stop offset="0.22" stop-color="#16226c"/>
<stop offset="0.33" stop-color="#1f2d82"/>
<stop offset="0.33" stop-color="#2a3c90"/>
<stop offset="0.43" stop-color="#3a50a0"/>
<stop offset="0.44" stop-color="#4460a8"/>
<stop offset="0.57" stop-color="#5a84b4"/>
<stop offset="0.66" stop-color="#6a9aba"/>
<stop offset="0.71" stop-color="#6c9cbc"/>
<stop offset="0.76" stop-color="#6088b6"/>
<stop offset="0.82" stop-color="#5070ac"/>
<stop offset="0.86" stop-color="#4058a2"/>
<stop offset="0.91" stop-color="#30449a"/>
<stop offset="1" stop-color="#22328a"/>
</linearGradient></defs>
<rect x="427.2" y="179" width="183.6" height="20" fill="url(#g3)"/>
<defs><linearGradient id="g4" x1="0" y1="0" x2="1" y2="0">
<stop offset="0" stop-color="#020208"/>
<stop offset="0.07" stop-color="#020208"/>
<stop offset="0.07" stop-color="#020208"/>
<stop offset="0.14" stop-color="#020208"/>
<stop offset="0.14" stop-color="#04042a"/>
<stop offset="0.21" stop-color="#04042a"/>
<stop offset="0.21" stop-color="#06086a"/>
<stop offset="0.29" stop-color="#06086a"/>
<stop offset="0.29" stop-color="#1e2888"/>
<stop offset="0.36" stop-color="#1e2888"/>
<stop offset="0.36" stop-color="#3c4ca0"/>
<stop offset="0.43" stop-color="#3c4ca0"/>
<stop offset="0.43" stop-color="#4c66aa"/>
<stop offset="0.5" stop-color="#4c66aa"/>
<stop offset="0.5" stop-color="#6a98b8"/>
<stop offset="0.57" stop-color="#6a98b8"/>
<stop offset="0.57" stop-color="#6890b8"/>
<stop offset="0.64" stop-color="#6890b8"/>
<stop offset="0.64" stop-color="#4c68ac"/>
<stop offset="0.71" stop-color="#4c68ac"/>
<stop offset="0.71" stop-color="#283a98"/>
<stop offset="0.79" stop-color="#283a98"/>
<stop offset="0.79" stop-color="#080c5c"/>
<stop offset="0.86" stop-color="#080c5c"/>
<stop offset="0.86" stop-color="#05053a"/>
<stop offset="0.93" stop-color="#05053a"/>
<stop offset="0.93" stop-color="#020220"/>
<stop offset="1" stop-color="#020220"/>
</linearGradient></defs>
<rect x="634.2" y="179" width="176.2" height="19.7" fill="url(#g4)"/>
<rect x="71.4" y="231.8" width="36.6" height="77.8" fill="#86f3f7"/>
<rect x="108" y="231.8" width="29.3" height="77.8" fill="#fff"/>
<rect x="137.3" y="231.8" width="36.5" height="77.8" fill="#86f3f7"/>
<rect x="71.4" y="231.8" width="102.4" height="77.8" fill="none" stroke="#333" stroke-width="1.15"/>
<line x1="108" y1="231.8" x2="108" y2="309.6" stroke="#333" stroke-width="1.1"/>
<line x1="137.3" y1="231.8" x2="137.3" y2="309.6" stroke="#333" stroke-width="1.1"/>
<text transform="translate(65.5,270.5) rotate(-90)" class="lab" text-anchor="middle">[O]</text>
<polyline points="71.4,309.6 108,309.6" fill="none" stroke="#f01c24" stroke-width="1.8"/>
<polyline points="108,270.7 137.3,270.7" fill="none" stroke="#f01c24" stroke-width="1.8"/>
<polyline points="137.3,231.8 173.8,231.8" fill="none" stroke="#f01c24" stroke-width="1.8"/>
<polyline points="71.4,309.6 108,309.6 137.3,231.8 173.8,231.8" fill="none" stroke="#2544dc" stroke-width="1.8" stroke-dasharray="6.5,5.5" opacity="1"/>
<text x="122.6" y="321.8" class="xl" style="font-size:12.2px" text-anchor="middle">x (mm)</text>
<rect x="240.3" y="206.6" width="25.1" height="54" fill="#86f3f7"/>
<rect x="265.4" y="206.6" width="21.2" height="54" fill="#fff"/>
<rect x="286.6" y="206.6" width="25.4" height="54" fill="#86f3f7"/>
<rect x="240.3" y="206.6" width="71.7" height="54" fill="none" stroke="#333" stroke-width="1.15"/>
<line x1="265.4" y1="206.6" x2="265.4" y2="260.6" stroke="#333" stroke-width="1.1"/>
<line x1="286.6" y1="206.6" x2="286.6" y2="260.6" stroke="#333" stroke-width="1.1"/>
<text transform="translate(235.5,234) rotate(-90)" class="lab" text-anchor="middle">[O]</text>
<polyline points="240.3,260.6 312,260.6" fill="none" stroke="#f01c24" stroke-width="1.8"/>
<polyline points="240.3,260.6 265.4,260.6" fill="none" stroke="#2544dc" stroke-width="1.8" stroke-dasharray="6.5,5.5" opacity="1"/>
<polyline points="286.6,260.6 312,260.6" fill="none" stroke="#2544dc" stroke-width="1.8" stroke-dasharray="6.5,5.5" opacity="1"/>
<path d="M265.4,221.9 Q276,204.9 286.6,221.9" fill="none" stroke="#2544dc" stroke-width="2" stroke-dasharray="5.8,5" opacity="1"/>
<path d="M265.4,233.8 Q276,216.8 286.6,233.8" fill="none" stroke="#2544dc" stroke-width="1.6" stroke-dasharray="4.8,3.8" opacity="1"/>
<path d="M265.4,245.7 Q276,228.7 286.6,245.7" fill="none" stroke="#2544dc" stroke-width="1.2" stroke-dasharray="3.6,2.6" opacity="0.9"/>
<path d="M265.4,257.6 Q276,240.6 286.6,257.6" fill="none" stroke="#2544dc" stroke-width="0.9" stroke-dasharray="3,2.4" opacity="0.75"/>
<rect x="333.9" y="206.6" width="25.2" height="54.4" fill="#86f3f7"/>
<rect x="359.1" y="206.6" width="21.1" height="54.4" fill="#fff"/>
<rect x="380.2" y="206.6" width="25.7" height="54.4" fill="#86f3f7"/>
<rect x="333.9" y="206.6" width="72" height="54.4" fill="none" stroke="#333" stroke-width="1.15"/>
<line x1="359.1" y1="206.6" x2="359.1" y2="261" stroke="#333" stroke-width="1.1"/>
<line x1="380.2" y1="206.6" x2="380.2" y2="261" stroke="#333" stroke-width="1.1"/>
<text transform="translate(328.5,234) rotate(-90)" class="lab" text-anchor="middle">[I]</text>
<polyline points="333.9,206.6 359.1,206.6" fill="none" stroke="#f01c24" stroke-width="1.8"/>
<polyline points="359.1,261 405.9,261" fill="none" stroke="#f01c24" stroke-width="1.8"/>
<polyline points="333.9,206.6 359.1,206.6 369,261 405.9,261" fill="none" stroke="#2544dc" stroke-width="1.8" stroke-dasharray="6.5,5.5" opacity="1"/>
<rect x="240.1" y="281.8" width="25.4" height="55" fill="#86f3f7"/>
<rect x="265.5" y="281.8" width="20.9" height="55" fill="#fff"/>
<rect x="286.4" y="281.8" width="26.2" height="55" fill="#86f3f7"/>
<rect x="240.1" y="281.8" width="72.5" height="55" fill="none" stroke="#333" stroke-width="1.15"/>
<line x1="265.5" y1="281.8" x2="265.5" y2="336.8" stroke="#333" stroke-width="1.1"/>
<line x1="286.4" y1="281.8" x2="286.4" y2="336.8" stroke="#333" stroke-width="1.1"/>
<text transform="translate(235.5,310) rotate(-90)" class="lab" text-anchor="middle">[S]</text>
<polyline points="240.1,336.8 286.4,336.8" fill="none" stroke="#f01c24" stroke-width="1.8"/>
<polyline points="286.4,281.8 312.6,281.8" fill="none" stroke="#f01c24" stroke-width="1.8"/>
<polyline points="240.1,336.8 275.5,336.8 286.4,281.8 312.6,281.8" fill="none" stroke="#2544dc" stroke-width="1.8" stroke-dasharray="6.5,5.5" opacity="1"/>
<text x="275.7" y="348" class="xl" text-anchor="middle">x (mm)</text>
<rect x="440.3" y="206.6" width="25.4" height="54" fill="#86f3f7"/>
<rect x="465.7" y="206.6" width="20.5" height="54" fill="#fff"/>
<rect x="486.2" y="206.6" width="25.8" height="54" fill="#86f3f7"/>
<rect x="440.3" y="206.6" width="71.7" height="54" fill="none" stroke="#333" stroke-width="1.15"/>
<line x1="465.7" y1="206.6" x2="465.7" y2="260.6" stroke="#333" stroke-width="1.1"/>
<line x1="486.2" y1="206.6" x2="486.2" y2="260.6" stroke="#333" stroke-width="1.1"/>
<text transform="translate(435.5,234) rotate(-90)" class="lab" text-anchor="middle">[O]</text>
<polyline points="440.3,260.6 512,260.6" fill="none" stroke="#f01c24" stroke-width="1.8"/>
<polyline points="440.3,260.6 465.7,260.6" fill="none" stroke="#2544dc" stroke-width="1.8" stroke-dasharray="6.5,5.5" opacity="1"/>
<polyline points="486.2,260.6 512,260.6" fill="none" stroke="#2544dc" stroke-width="1.8" stroke-dasharray="6.5,5.5" opacity="1"/>
<path d="M465.2,260.4 Q468.5,259.8 470.6,257.6" fill="none" stroke="#2544dc" stroke-width="1.8" stroke-dasharray="none" opacity="1"/>
<path d="M474.4,252.4 L476.2,249.9 L477.9,252.2" fill="none" stroke="#2544dc" stroke-width="1.8" stroke-dasharray="none" opacity="1"/>
<path d="M481.5,257.4 Q483.5,259.8 486.2,260.4" fill="none" stroke="#2544dc" stroke-width="1.8" stroke-dasharray="none" opacity="1"/>
<rect x="533.9" y="206.6" width="25.2" height="54.4" fill="#86f3f7"/>
<rect x="559.1" y="206.6" width="21.1" height="54.4" fill="#fff"/>
<rect x="580.2" y="206.6" width="25.7" height="54.4" fill="#86f3f7"/>
<rect x="533.9" y="206.6" width="72" height="54.4" fill="none" stroke="#333" stroke-width="1.15"/>
<line x1="559.1" y1="206.6" x2="559.1" y2="261" stroke="#333" stroke-width="1.1"/>
<line x1="580.2" y1="206.6" x2="580.2" y2="261" stroke="#333" stroke-width="1.1"/>
<text transform="translate(528.5,234) rotate(-90)" class="lab" text-anchor="middle">[I]</text>
<polyline points="533.9,233.8 559.1,233.8" fill="none" stroke="#f01c24" stroke-width="1.8"/>
<polyline points="559.1,261 605.9,261" fill="none" stroke="#f01c24" stroke-width="1.8"/>
<polyline points="533.9,233.8 559.1,233.8 569,261 605.9,261" fill="none" stroke="#2544dc" stroke-width="1.8" stroke-dasharray="6.5,5.5" opacity="1"/>
<rect x="440" y="281.8" width="25.5" height="55.5" fill="#86f3f7"/>
<rect x="465.5" y="281.8" width="20.9" height="55.5" fill="#fff"/>
<rect x="486.4" y="281.8" width="25.6" height="55.5" fill="#86f3f7"/>
<rect x="440" y="281.8" width="72" height="55.5" fill="none" stroke="#333" stroke-width="1.15"/>
<line x1="465.5" y1="281.8" x2="465.5" y2="337.3" stroke="#333" stroke-width="1.1"/>
<line x1="486.4" y1="281.8" x2="486.4" y2="337.3" stroke="#333" stroke-width="1.1"/>
<text transform="translate(435.5,310) rotate(-90)" class="lab" text-anchor="middle">[S]</text>
<polyline points="440,337.3 486.4,337.3" fill="none" stroke="#f01c24" stroke-width="1.8"/>
<polyline points="486.4,310.2 512,310.2" fill="none" stroke="#f01c24" stroke-width="1.8"/>
<polyline points="440,337.3 476,337.3 486.4,310.2 512,310.2" fill="none" stroke="#2544dc" stroke-width="1.8" stroke-dasharray="6.5,5.5" opacity="1"/>
<text x="475.7" y="348.2" class="xl" text-anchor="middle">x (mm)</text>
<rect x="533.6" y="282.5" width="25.7" height="55" fill="#86f3f7"/>
<rect x="559.3" y="282.5" width="21.2" height="55" fill="#fff"/>
<rect x="580.5" y="282.5" width="25.4" height="55" fill="#86f3f7"/>
<rect x="533.6" y="282.5" width="72.3" height="55" fill="none" stroke="#333" stroke-width="1.15"/>
<line x1="559.3" y1="282.5" x2="559.3" y2="337.5" stroke="#333" stroke-width="1.1"/>
<line x1="580.5" y1="282.5" x2="580.5" y2="337.5" stroke="#333" stroke-width="1.1"/>
<text transform="translate(528.5,310) rotate(-90)" class="lab" text-anchor="middle">[Rec]</text>
<polyline points="533.6,282.5 605.9,282.5" fill="none" stroke="#f01c24" stroke-width="1.8"/>
<polyline points="533.6,282.5 559.3,282.5" fill="none" stroke="#2544dc" stroke-width="1.8" stroke-dasharray="6.5,5.5" opacity="1"/>
<polyline points="580.5,282.5 605.9,282.5" fill="none" stroke="#2544dc" stroke-width="1.8" stroke-dasharray="6.5,5.5" opacity="1"/>
<path d="M559.3,282.6 Q562.5,283 564.4,285.6" fill="none" stroke="#2544dc" stroke-width="1.8" stroke-dasharray="none" opacity="1"/>
<path d="M568.4,290 L569.9,291.5 L572.5,288.6" fill="none" stroke="#2544dc" stroke-width="1.8" stroke-dasharray="none" opacity="1"/>
<path d="M577,283.9 Q578.3,282.8 580.5,282.6" fill="none" stroke="#2544dc" stroke-width="1.8" stroke-dasharray="none" opacity="1"/>
<text x="570.7" y="348.2" class="xl" text-anchor="middle">x (mm)</text>
<rect x="642.3" y="206.6" width="25.8" height="54" fill="#86f3f7"/>
<rect x="668.1" y="206.6" width="20.5" height="54" fill="#fff"/>
<rect x="688.6" y="206.6" width="25.6" height="54" fill="#86f3f7"/>
<rect x="642.3" y="206.6" width="71.9" height="54" fill="none" stroke="#333" stroke-width="1.15"/>
<line x1="668.1" y1="206.6" x2="668.1" y2="260.6" stroke="#333" stroke-width="1.1"/>
<line x1="688.6" y1="206.6" x2="688.6" y2="260.6" stroke="#333" stroke-width="1.1"/>
<text transform="translate(637.5,234) rotate(-90)" class="lab" text-anchor="middle">[O]</text>
<polyline points="642.3,260.6 714.2,260.6" fill="none" stroke="#f01c24" stroke-width="1.8"/>
<polyline points="642.3,260.6 668.1,260.6" fill="none" stroke="#2544dc" stroke-width="1.8" stroke-dasharray="6.5,5.5" opacity="1"/>
<polyline points="688.6,260.6 714.2,260.6" fill="none" stroke="#2544dc" stroke-width="1.8" stroke-dasharray="6.5,5.5" opacity="1"/>
<path d="M667.5,260.6 Q670.5,259.6 671.6,256.7" fill="none" stroke="#2544dc" stroke-width="1.8" stroke-dasharray="none" opacity="1"/>
<path d="M673.5,250.3 L676,244.9" fill="none" stroke="#2544dc" stroke-width="1.8" stroke-dasharray="none" opacity="1"/>
<path d="M676.7,238.7 L679.2,233.5" fill="none" stroke="#2544dc" stroke-width="1.8" stroke-dasharray="none" opacity="1"/>
<path d="M680,241.1 L682.4,246.5" fill="none" stroke="#2544dc" stroke-width="1.8" stroke-dasharray="none" opacity="1"/>
<path d="M683.9,252.7 L686.4,257.8" fill="none" stroke="#2544dc" stroke-width="1.8" stroke-dasharray="none" opacity="1"/>
<rect x="736.3" y="206.6" width="25" height="54.4" fill="#86f3f7"/>
<rect x="761.3" y="206.6" width="20.9" height="54.4" fill="#fff"/>
<rect x="782.2" y="206.6" width="25.4" height="54.4" fill="#86f3f7"/>
<rect x="736.3" y="206.6" width="71.3" height="54.4" fill="none" stroke="#333" stroke-width="1.15"/>
<line x1="761.3" y1="206.6" x2="761.3" y2="261" stroke="#333" stroke-width="1.1"/>
<line x1="782.2" y1="206.6" x2="782.2" y2="261" stroke="#333" stroke-width="1.1"/>
<text transform="translate(731,234) rotate(-90)" class="lab" text-anchor="middle">[I]</text>
<polyline points="736.3,206.6 761.3,206.6" fill="none" stroke="#f01c24" stroke-width="1.8"/>
<polyline points="761.3,261 807.6,261" fill="none" stroke="#f01c24" stroke-width="1.8"/>
<polyline points="736.3,206.6 761.3,206.6 771.5,261 807.6,261" fill="none" stroke="#2544dc" stroke-width="1.8" stroke-dasharray="6.5,5.5" opacity="1"/>
<rect x="642.3" y="281.8" width="25.4" height="55.2" fill="#86f3f7"/>
<rect x="667.7" y="281.8" width="21.2" height="55.2" fill="#fff"/>
<rect x="688.9" y="281.8" width="25.4" height="55.2" fill="#86f3f7"/>
<rect x="642.3" y="281.8" width="72" height="55.2" fill="none" stroke="#333" stroke-width="1.15"/>
<line x1="667.7" y1="281.8" x2="667.7" y2="337" stroke="#333" stroke-width="1.1"/>
<line x1="688.9" y1="281.8" x2="688.9" y2="337" stroke="#333" stroke-width="1.1"/>
<text transform="translate(637.5,310) rotate(-90)" class="lab" text-anchor="middle">[S]</text>
<polyline points="642.3,337 688.9,337" fill="none" stroke="#f01c24" stroke-width="1.8"/>
<polyline points="688.9,281.8 714.3,281.8" fill="none" stroke="#f01c24" stroke-width="1.8"/>
<polyline points="642.3,337 678,337 688.9,281.8 714.3,281.8" fill="none" stroke="#2544dc" stroke-width="1.8" stroke-dasharray="6.5,5.5" opacity="1"/>
<text x="678" y="348" class="xl" text-anchor="middle">x (mm)</text>
<rect x="736.2" y="281.8" width="25.2" height="55.2" fill="#86f3f7"/>
<rect x="761.4" y="281.8" width="20.9" height="55.2" fill="#fff"/>
<rect x="782.3" y="281.8" width="25" height="55.2" fill="#86f3f7"/>
<rect x="736.2" y="281.8" width="71.1" height="55.2" fill="none" stroke="#333" stroke-width="1.15"/>
<line x1="761.4" y1="281.8" x2="761.4" y2="337" stroke="#333" stroke-width="1.1"/>
<line x1="782.3" y1="281.8" x2="782.3" y2="337" stroke="#333" stroke-width="1.1"/>
<text transform="translate(731,310) rotate(-90)" class="lab" text-anchor="middle">[Rec]</text>
<polyline points="736.2,281.8 807.3,281.8" fill="none" stroke="#f01c24" stroke-width="1.8"/>
<polyline points="736.2,281.8 761.4,281.8" fill="none" stroke="#2544dc" stroke-width="1.8" stroke-dasharray="6.5,5.5" opacity="1"/>
<polyline points="782.3,281.8 807.3,281.8" fill="none" stroke="#2544dc" stroke-width="1.8" stroke-dasharray="6.5,5.5" opacity="1"/>
<path d="M761.4,281.9 Q764.5,282.6 766,285.8" fill="none" stroke="#2544dc" stroke-width="1.8" stroke-dasharray="none" opacity="1"/>
<path d="M768.4,290.8 L771.9,297.2" fill="none" stroke="#2544dc" stroke-width="1.8" stroke-dasharray="none" opacity="1"/>
<path d="M772.4,297.2 L775.3,292.5" fill="none" stroke="#2544dc" stroke-width="1.8" stroke-dasharray="none" opacity="1"/>
<path d="M778,286.3 Q779.5,282.6 782.3,281.9" fill="none" stroke="#2544dc" stroke-width="1.8" stroke-dasharray="none" opacity="1"/>
<text x="771" y="348" class="xl" text-anchor="middle">x (mm)</text>
</svg></body></html>
